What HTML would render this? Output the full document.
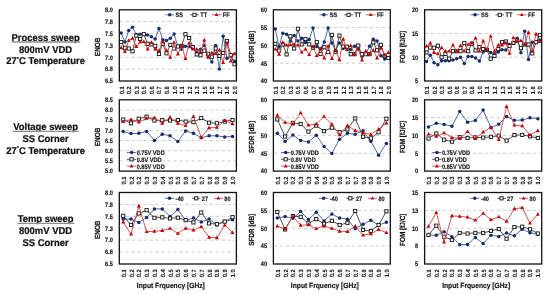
<!DOCTYPE html>
<html><head><meta charset="utf-8"><style>
html,body{margin:0;padding:0;background:#fff;width:550px;height:294px;overflow:hidden}
svg{display:block;font-family:"Liberation Sans", sans-serif;text-rendering:geometricPrecision;will-change:transform}
</style></head><body>
<svg width="550" height="294" viewBox="0 0 550 294">
<line x1="120.3" y1="69.13" x2="235.4" y2="69.13" stroke="#c8c8c8" stroke-width="0.9" stroke-dasharray="3.3 2.7" stroke-dashoffset="0.7"/>
<line x1="120.3" y1="57.27" x2="235.4" y2="57.27" stroke="#c8c8c8" stroke-width="0.9" stroke-dasharray="3.3 2.7" stroke-dashoffset="0.7"/>
<line x1="120.3" y1="45.4" x2="235.4" y2="45.4" stroke="#c8c8c8" stroke-width="0.9" stroke-dasharray="3.3 2.7" stroke-dashoffset="0.7"/>
<line x1="120.3" y1="33.53" x2="235.4" y2="33.53" stroke="#c8c8c8" stroke-width="0.9" stroke-dasharray="3.3 2.7" stroke-dashoffset="0.7"/>
<line x1="120.3" y1="21.67" x2="235.4" y2="21.67" stroke="#c8c8c8" stroke-width="0.9" stroke-dasharray="3.3 2.7" stroke-dashoffset="0.7"/>
<text transform="translate(112.9,12.1) scale(1.0,1.15)" text-anchor="end" font-size="5.6" font-weight="bold" fill="#1a1a1a" stroke="#1a1a1a" stroke-width="0.16">8.0</text>
<text transform="translate(112.9,23.97) scale(1.0,1.15)" text-anchor="end" font-size="5.6" font-weight="bold" fill="#1a1a1a" stroke="#1a1a1a" stroke-width="0.16">7.8</text>
<text transform="translate(112.9,35.83) scale(1.0,1.15)" text-anchor="end" font-size="5.6" font-weight="bold" fill="#1a1a1a" stroke="#1a1a1a" stroke-width="0.16">7.5</text>
<text transform="translate(112.9,47.7) scale(1.0,1.15)" text-anchor="end" font-size="5.6" font-weight="bold" fill="#1a1a1a" stroke="#1a1a1a" stroke-width="0.16">7.3</text>
<text transform="translate(112.9,59.57) scale(1.0,1.15)" text-anchor="end" font-size="5.6" font-weight="bold" fill="#1a1a1a" stroke="#1a1a1a" stroke-width="0.16">7.0</text>
<text transform="translate(112.9,71.43) scale(1.0,1.15)" text-anchor="end" font-size="5.6" font-weight="bold" fill="#1a1a1a" stroke="#1a1a1a" stroke-width="0.16">6.8</text>
<text transform="translate(112.9,83.3) scale(1.0,1.15)" text-anchor="end" font-size="5.6" font-weight="bold" fill="#1a1a1a" stroke="#1a1a1a" stroke-width="0.16">6.5</text>
<text transform="translate(100,46.9) rotate(-90) scale(1.0,1.15)" text-anchor="middle" font-size="6.4" font-weight="bold" fill="#111" stroke="#111" stroke-width="0.15">ENOB</text>
<text transform="translate(123.69,86.3) rotate(-90) scale(1.0,1.05)" text-anchor="end" font-size="5.8" font-weight="bold" fill="#1a1a1a" stroke="#1a1a1a" stroke-width="0.1">0.1</text>
<text transform="translate(131.24,86.3) rotate(-90) scale(1.0,1.05)" text-anchor="end" font-size="5.8" font-weight="bold" fill="#1a1a1a" stroke="#1a1a1a" stroke-width="0.1">0.2</text>
<text transform="translate(138.8,86.3) rotate(-90) scale(1.0,1.05)" text-anchor="end" font-size="5.8" font-weight="bold" fill="#1a1a1a" stroke="#1a1a1a" stroke-width="0.1">0.3</text>
<text transform="translate(146.35,86.3) rotate(-90) scale(1.0,1.05)" text-anchor="end" font-size="5.8" font-weight="bold" fill="#1a1a1a" stroke="#1a1a1a" stroke-width="0.1">0.5</text>
<text transform="translate(153.91,86.3) rotate(-90) scale(1.0,1.05)" text-anchor="end" font-size="5.8" font-weight="bold" fill="#1a1a1a" stroke="#1a1a1a" stroke-width="0.1">0.6</text>
<text transform="translate(161.46,86.3) rotate(-90) scale(1.0,1.05)" text-anchor="end" font-size="5.8" font-weight="bold" fill="#1a1a1a" stroke="#1a1a1a" stroke-width="0.1">0.7</text>
<text transform="translate(169.02,86.3) rotate(-90) scale(1.0,1.05)" text-anchor="end" font-size="5.8" font-weight="bold" fill="#1a1a1a" stroke="#1a1a1a" stroke-width="0.1">0.8</text>
<text transform="translate(176.57,86.3) rotate(-90) scale(1.0,1.05)" text-anchor="end" font-size="5.8" font-weight="bold" fill="#1a1a1a" stroke="#1a1a1a" stroke-width="0.1">1.0</text>
<text transform="translate(184.13,86.3) rotate(-90) scale(1.0,1.05)" text-anchor="end" font-size="5.8" font-weight="bold" fill="#1a1a1a" stroke="#1a1a1a" stroke-width="0.1">1.1</text>
<text transform="translate(191.68,86.3) rotate(-90) scale(1.0,1.05)" text-anchor="end" font-size="5.8" font-weight="bold" fill="#1a1a1a" stroke="#1a1a1a" stroke-width="0.1">1.2</text>
<text transform="translate(199.24,86.3) rotate(-90) scale(1.0,1.05)" text-anchor="end" font-size="5.8" font-weight="bold" fill="#1a1a1a" stroke="#1a1a1a" stroke-width="0.1">1.3</text>
<text transform="translate(206.79,86.3) rotate(-90) scale(1.0,1.05)" text-anchor="end" font-size="5.8" font-weight="bold" fill="#1a1a1a" stroke="#1a1a1a" stroke-width="0.1">1.5</text>
<text transform="translate(214.35,86.3) rotate(-90) scale(1.0,1.05)" text-anchor="end" font-size="5.8" font-weight="bold" fill="#1a1a1a" stroke="#1a1a1a" stroke-width="0.1">1.6</text>
<text transform="translate(221.9,86.3) rotate(-90) scale(1.0,1.05)" text-anchor="end" font-size="5.8" font-weight="bold" fill="#1a1a1a" stroke="#1a1a1a" stroke-width="0.1">1.7</text>
<text transform="translate(229.46,86.3) rotate(-90) scale(1.0,1.05)" text-anchor="end" font-size="5.8" font-weight="bold" fill="#1a1a1a" stroke="#1a1a1a" stroke-width="0.1">1.8</text>
<text transform="translate(237.01,86.3) rotate(-90) scale(1.0,1.05)" text-anchor="end" font-size="5.8" font-weight="bold" fill="#1a1a1a" stroke="#1a1a1a" stroke-width="0.1">2.0</text>
<polyline fill="none" stroke="#4563a3" stroke-width="0.95" points="121.19,33 124.97,42 128.74,30.4 132.52,27.2 136.3,34.5 140.08,34.2 143.85,34 147.63,34.9 151.41,36.7 155.19,39 158.96,28.5 162.74,39.7 166.52,40.4 170.3,38.3 174.07,34 177.85,46.5 181.63,49.2 185.4,46.2 189.18,46.8 192.96,47.9 196.74,52.2 200.51,49.2 204.29,45.5 208.07,56 211.85,62 215.62,45.5 219.4,69.1 223.18,36.2 226.96,58.2 230.73,56 234.51,61.2"/>
<circle cx="121.19" cy="33" r="1.75" fill="#172a6a"/>
<circle cx="124.97" cy="42" r="1.75" fill="#172a6a"/>
<circle cx="128.74" cy="30.4" r="1.75" fill="#172a6a"/>
<circle cx="132.52" cy="27.2" r="1.75" fill="#172a6a"/>
<circle cx="136.3" cy="34.5" r="1.75" fill="#172a6a"/>
<circle cx="140.08" cy="34.2" r="1.75" fill="#172a6a"/>
<circle cx="143.85" cy="34" r="1.75" fill="#172a6a"/>
<circle cx="147.63" cy="34.9" r="1.75" fill="#172a6a"/>
<circle cx="151.41" cy="36.7" r="1.75" fill="#172a6a"/>
<circle cx="155.19" cy="39" r="1.75" fill="#172a6a"/>
<circle cx="158.96" cy="28.5" r="1.75" fill="#172a6a"/>
<circle cx="162.74" cy="39.7" r="1.75" fill="#172a6a"/>
<circle cx="166.52" cy="40.4" r="1.75" fill="#172a6a"/>
<circle cx="170.3" cy="38.3" r="1.75" fill="#172a6a"/>
<circle cx="174.07" cy="34" r="1.75" fill="#172a6a"/>
<circle cx="177.85" cy="46.5" r="1.75" fill="#172a6a"/>
<circle cx="181.63" cy="49.2" r="1.75" fill="#172a6a"/>
<circle cx="185.4" cy="46.2" r="1.75" fill="#172a6a"/>
<circle cx="189.18" cy="46.8" r="1.75" fill="#172a6a"/>
<circle cx="192.96" cy="47.9" r="1.75" fill="#172a6a"/>
<circle cx="196.74" cy="52.2" r="1.75" fill="#172a6a"/>
<circle cx="200.51" cy="49.2" r="1.75" fill="#172a6a"/>
<circle cx="204.29" cy="45.5" r="1.75" fill="#172a6a"/>
<circle cx="208.07" cy="56" r="1.75" fill="#172a6a"/>
<circle cx="211.85" cy="62" r="1.75" fill="#172a6a"/>
<circle cx="215.62" cy="45.5" r="1.75" fill="#172a6a"/>
<circle cx="219.4" cy="69.1" r="1.75" fill="#172a6a"/>
<circle cx="223.18" cy="36.2" r="1.75" fill="#172a6a"/>
<circle cx="226.96" cy="58.2" r="1.75" fill="#172a6a"/>
<circle cx="230.73" cy="56" r="1.75" fill="#172a6a"/>
<circle cx="234.51" cy="61.2" r="1.75" fill="#172a6a"/>
<polyline fill="none" stroke="#444" stroke-width="0.95" points="121.19,42.1 124.97,47.8 128.74,48.5 132.52,51.3 136.3,35.6 140.08,39 143.85,34.2 147.63,43.8 151.41,44.4 155.19,45.8 158.96,54 162.74,43.8 166.52,53.3 170.3,44.9 174.07,48.5 177.85,46.5 181.63,46 185.4,34.2 189.18,38 192.96,47.2 196.74,54.4 200.51,55.2 204.29,50.7 208.07,53.7 211.85,56.7 215.62,48.5 219.4,56 223.18,53 226.96,41 230.73,55.2 234.51,64.2"/>
<rect x="119.59" y="40.5" width="3.2" height="3.2" fill="#fff" stroke="#111" stroke-width="0.9"/>
<rect x="123.37" y="46.2" width="3.2" height="3.2" fill="#fff" stroke="#111" stroke-width="0.9"/>
<rect x="127.14" y="46.9" width="3.2" height="3.2" fill="#fff" stroke="#111" stroke-width="0.9"/>
<rect x="130.92" y="49.7" width="3.2" height="3.2" fill="#fff" stroke="#111" stroke-width="0.9"/>
<rect x="134.7" y="34" width="3.2" height="3.2" fill="#fff" stroke="#111" stroke-width="0.9"/>
<rect x="138.48" y="37.4" width="3.2" height="3.2" fill="#fff" stroke="#111" stroke-width="0.9"/>
<rect x="142.25" y="32.6" width="3.2" height="3.2" fill="#fff" stroke="#111" stroke-width="0.9"/>
<rect x="146.03" y="42.2" width="3.2" height="3.2" fill="#fff" stroke="#111" stroke-width="0.9"/>
<rect x="149.81" y="42.8" width="3.2" height="3.2" fill="#fff" stroke="#111" stroke-width="0.9"/>
<rect x="153.59" y="44.2" width="3.2" height="3.2" fill="#fff" stroke="#111" stroke-width="0.9"/>
<rect x="157.36" y="52.4" width="3.2" height="3.2" fill="#fff" stroke="#111" stroke-width="0.9"/>
<rect x="161.14" y="42.2" width="3.2" height="3.2" fill="#fff" stroke="#111" stroke-width="0.9"/>
<rect x="164.92" y="51.7" width="3.2" height="3.2" fill="#fff" stroke="#111" stroke-width="0.9"/>
<rect x="168.7" y="43.3" width="3.2" height="3.2" fill="#fff" stroke="#111" stroke-width="0.9"/>
<rect x="172.47" y="46.9" width="3.2" height="3.2" fill="#fff" stroke="#111" stroke-width="0.9"/>
<rect x="176.25" y="44.9" width="3.2" height="3.2" fill="#fff" stroke="#111" stroke-width="0.9"/>
<rect x="180.03" y="44.4" width="3.2" height="3.2" fill="#fff" stroke="#111" stroke-width="0.9"/>
<rect x="183.8" y="32.6" width="3.2" height="3.2" fill="#fff" stroke="#111" stroke-width="0.9"/>
<rect x="187.58" y="36.4" width="3.2" height="3.2" fill="#fff" stroke="#111" stroke-width="0.9"/>
<rect x="191.36" y="45.6" width="3.2" height="3.2" fill="#fff" stroke="#111" stroke-width="0.9"/>
<rect x="195.14" y="52.8" width="3.2" height="3.2" fill="#fff" stroke="#111" stroke-width="0.9"/>
<rect x="198.91" y="53.6" width="3.2" height="3.2" fill="#fff" stroke="#111" stroke-width="0.9"/>
<rect x="202.69" y="49.1" width="3.2" height="3.2" fill="#fff" stroke="#111" stroke-width="0.9"/>
<rect x="206.47" y="52.1" width="3.2" height="3.2" fill="#fff" stroke="#111" stroke-width="0.9"/>
<rect x="210.25" y="55.1" width="3.2" height="3.2" fill="#fff" stroke="#111" stroke-width="0.9"/>
<rect x="214.02" y="46.9" width="3.2" height="3.2" fill="#fff" stroke="#111" stroke-width="0.9"/>
<rect x="217.8" y="54.4" width="3.2" height="3.2" fill="#fff" stroke="#111" stroke-width="0.9"/>
<rect x="221.58" y="51.4" width="3.2" height="3.2" fill="#fff" stroke="#111" stroke-width="0.9"/>
<rect x="225.36" y="39.4" width="3.2" height="3.2" fill="#fff" stroke="#111" stroke-width="0.9"/>
<rect x="229.13" y="53.6" width="3.2" height="3.2" fill="#fff" stroke="#111" stroke-width="0.9"/>
<rect x="232.91" y="62.6" width="3.2" height="3.2" fill="#fff" stroke="#111" stroke-width="0.9"/>
<polyline fill="none" stroke="#d24b4b" stroke-width="0.95" points="121.19,47.8 124.97,51.7 128.74,40.4 132.52,38.3 136.3,46.5 140.08,42.1 143.85,41.7 147.63,49.2 151.41,42.4 155.19,49.2 158.96,50.6 162.74,41.7 166.52,50.6 170.3,57.4 174.07,42.4 177.85,54 181.63,45.8 185.4,58.5 189.18,43.1 192.96,49.2 196.74,49.2 200.51,52.2 204.29,40.2 208.07,57.4 211.85,53 215.62,53.7 219.4,50 223.18,62.7 226.96,43.2 230.73,61.2 234.51,53.7"/>
<path d="M121.19,45.6L123.19,49.2L119.19,49.2Z" fill="#c00000"/>
<path d="M124.97,49.5L126.97,53.1L122.97,53.1Z" fill="#c00000"/>
<path d="M128.74,38.2L130.74,41.8L126.74,41.8Z" fill="#c00000"/>
<path d="M132.52,36.1L134.52,39.7L130.52,39.7Z" fill="#c00000"/>
<path d="M136.3,44.3L138.3,47.9L134.3,47.9Z" fill="#c00000"/>
<path d="M140.08,39.9L142.08,43.5L138.08,43.5Z" fill="#c00000"/>
<path d="M143.85,39.5L145.85,43.1L141.85,43.1Z" fill="#c00000"/>
<path d="M147.63,47L149.63,50.6L145.63,50.6Z" fill="#c00000"/>
<path d="M151.41,40.2L153.41,43.8L149.41,43.8Z" fill="#c00000"/>
<path d="M155.19,47L157.19,50.6L153.19,50.6Z" fill="#c00000"/>
<path d="M158.96,48.4L160.96,52L156.96,52Z" fill="#c00000"/>
<path d="M162.74,39.5L164.74,43.1L160.74,43.1Z" fill="#c00000"/>
<path d="M166.52,48.4L168.52,52L164.52,52Z" fill="#c00000"/>
<path d="M170.3,55.2L172.3,58.8L168.3,58.8Z" fill="#c00000"/>
<path d="M174.07,40.2L176.07,43.8L172.07,43.8Z" fill="#c00000"/>
<path d="M177.85,51.8L179.85,55.4L175.85,55.4Z" fill="#c00000"/>
<path d="M181.63,43.6L183.63,47.2L179.63,47.2Z" fill="#c00000"/>
<path d="M185.4,56.3L187.4,59.9L183.4,59.9Z" fill="#c00000"/>
<path d="M189.18,40.9L191.18,44.5L187.18,44.5Z" fill="#c00000"/>
<path d="M192.96,47L194.96,50.6L190.96,50.6Z" fill="#c00000"/>
<path d="M196.74,47L198.74,50.6L194.74,50.6Z" fill="#c00000"/>
<path d="M200.51,50L202.51,53.6L198.51,53.6Z" fill="#c00000"/>
<path d="M204.29,38L206.29,41.6L202.29,41.6Z" fill="#c00000"/>
<path d="M208.07,55.2L210.07,58.8L206.07,58.8Z" fill="#c00000"/>
<path d="M211.85,50.8L213.85,54.4L209.85,54.4Z" fill="#c00000"/>
<path d="M215.62,51.5L217.62,55.1L213.62,55.1Z" fill="#c00000"/>
<path d="M219.4,47.8L221.4,51.4L217.4,51.4Z" fill="#c00000"/>
<path d="M223.18,60.5L225.18,64.1L221.18,64.1Z" fill="#c00000"/>
<path d="M226.96,41L228.96,44.6L224.96,44.6Z" fill="#c00000"/>
<path d="M230.73,59L232.73,62.6L228.73,62.6Z" fill="#c00000"/>
<path d="M234.51,51.5L236.51,55.1L232.51,55.1Z" fill="#c00000"/>
<rect x="119.3" y="9.8" width="117.1" height="71.2" fill="none" stroke="#111" stroke-width="1.3"/>
<line x1="165.4" y1="14.8" x2="174.1" y2="14.8" stroke="#4563a3" stroke-width="0.9"/>
<circle cx="169.75" cy="14.8" r="1.75" fill="#172a6a"/>
<text transform="translate(175.6,17.2) scale(1.0,1.15)" font-size="5.6" font-weight="bold" fill="#1a1a1a" stroke="#1a1a1a" stroke-width="0.14">SS</text>
<line x1="190.1" y1="14.8" x2="198.8" y2="14.8" stroke="#444" stroke-width="0.9"/>
<rect x="192.85" y="13.2" width="3.2" height="3.2" fill="#fff" stroke="#111" stroke-width="0.9"/>
<text transform="translate(200.3,17.2) scale(1.0,1.15)" font-size="5.6" font-weight="bold" fill="#1a1a1a" stroke="#1a1a1a" stroke-width="0.14">TT</text>
<line x1="211.9" y1="14.8" x2="221.3" y2="14.8" stroke="#d24b4b" stroke-width="0.9"/>
<path d="M216.6,12.8L218.4,16.1L214.8,16.1Z" fill="#c00000"/>
<text transform="translate(222.8,17.2) scale(1.0,1.15)" font-size="5.6" font-weight="bold" fill="#1a1a1a" stroke="#1a1a1a" stroke-width="0.14">FF</text>
<line x1="274.4" y1="63.2" x2="389.3" y2="63.2" stroke="#c8c8c8" stroke-width="0.9" stroke-dasharray="3.3 2.7" stroke-dashoffset="0.7"/>
<line x1="274.4" y1="45.4" x2="389.3" y2="45.4" stroke="#c8c8c8" stroke-width="0.9" stroke-dasharray="3.3 2.7" stroke-dashoffset="0.7"/>
<line x1="274.4" y1="27.6" x2="389.3" y2="27.6" stroke="#c8c8c8" stroke-width="0.9" stroke-dasharray="3.3 2.7" stroke-dashoffset="0.7"/>
<text transform="translate(267,12.1) scale(1.0,1.15)" text-anchor="end" font-size="5.6" font-weight="bold" fill="#1a1a1a" stroke="#1a1a1a" stroke-width="0.16">60</text>
<text transform="translate(267,29.9) scale(1.0,1.15)" text-anchor="end" font-size="5.6" font-weight="bold" fill="#1a1a1a" stroke="#1a1a1a" stroke-width="0.16">55</text>
<text transform="translate(267,47.7) scale(1.0,1.15)" text-anchor="end" font-size="5.6" font-weight="bold" fill="#1a1a1a" stroke="#1a1a1a" stroke-width="0.16">50</text>
<text transform="translate(267,65.5) scale(1.0,1.15)" text-anchor="end" font-size="5.6" font-weight="bold" fill="#1a1a1a" stroke="#1a1a1a" stroke-width="0.16">45</text>
<text transform="translate(267,83.3) scale(1.0,1.15)" text-anchor="end" font-size="5.6" font-weight="bold" fill="#1a1a1a" stroke="#1a1a1a" stroke-width="0.16">40</text>
<text transform="translate(254.1,46.9) rotate(-90) scale(1.0,1.15)" text-anchor="middle" font-size="6.4" font-weight="bold" fill="#111" stroke="#111" stroke-width="0.15">SFDR [dB]</text>
<text transform="translate(277.79,86.3) rotate(-90) scale(1.0,1.05)" text-anchor="end" font-size="5.8" font-weight="bold" fill="#1a1a1a" stroke="#1a1a1a" stroke-width="0.1">0.1</text>
<text transform="translate(285.33,86.3) rotate(-90) scale(1.0,1.05)" text-anchor="end" font-size="5.8" font-weight="bold" fill="#1a1a1a" stroke="#1a1a1a" stroke-width="0.1">0.2</text>
<text transform="translate(292.87,86.3) rotate(-90) scale(1.0,1.05)" text-anchor="end" font-size="5.8" font-weight="bold" fill="#1a1a1a" stroke="#1a1a1a" stroke-width="0.1">0.3</text>
<text transform="translate(300.41,86.3) rotate(-90) scale(1.0,1.05)" text-anchor="end" font-size="5.8" font-weight="bold" fill="#1a1a1a" stroke="#1a1a1a" stroke-width="0.1">0.5</text>
<text transform="translate(307.95,86.3) rotate(-90) scale(1.0,1.05)" text-anchor="end" font-size="5.8" font-weight="bold" fill="#1a1a1a" stroke="#1a1a1a" stroke-width="0.1">0.6</text>
<text transform="translate(315.5,86.3) rotate(-90) scale(1.0,1.05)" text-anchor="end" font-size="5.8" font-weight="bold" fill="#1a1a1a" stroke="#1a1a1a" stroke-width="0.1">0.7</text>
<text transform="translate(323.04,86.3) rotate(-90) scale(1.0,1.05)" text-anchor="end" font-size="5.8" font-weight="bold" fill="#1a1a1a" stroke="#1a1a1a" stroke-width="0.1">0.8</text>
<text transform="translate(330.58,86.3) rotate(-90) scale(1.0,1.05)" text-anchor="end" font-size="5.8" font-weight="bold" fill="#1a1a1a" stroke="#1a1a1a" stroke-width="0.1">1.0</text>
<text transform="translate(338.12,86.3) rotate(-90) scale(1.0,1.05)" text-anchor="end" font-size="5.8" font-weight="bold" fill="#1a1a1a" stroke="#1a1a1a" stroke-width="0.1">1.1</text>
<text transform="translate(345.66,86.3) rotate(-90) scale(1.0,1.05)" text-anchor="end" font-size="5.8" font-weight="bold" fill="#1a1a1a" stroke="#1a1a1a" stroke-width="0.1">1.2</text>
<text transform="translate(353.2,86.3) rotate(-90) scale(1.0,1.05)" text-anchor="end" font-size="5.8" font-weight="bold" fill="#1a1a1a" stroke="#1a1a1a" stroke-width="0.1">1.3</text>
<text transform="translate(360.75,86.3) rotate(-90) scale(1.0,1.05)" text-anchor="end" font-size="5.8" font-weight="bold" fill="#1a1a1a" stroke="#1a1a1a" stroke-width="0.1">1.5</text>
<text transform="translate(368.29,86.3) rotate(-90) scale(1.0,1.05)" text-anchor="end" font-size="5.8" font-weight="bold" fill="#1a1a1a" stroke="#1a1a1a" stroke-width="0.1">1.6</text>
<text transform="translate(375.83,86.3) rotate(-90) scale(1.0,1.05)" text-anchor="end" font-size="5.8" font-weight="bold" fill="#1a1a1a" stroke="#1a1a1a" stroke-width="0.1">1.7</text>
<text transform="translate(383.37,86.3) rotate(-90) scale(1.0,1.05)" text-anchor="end" font-size="5.8" font-weight="bold" fill="#1a1a1a" stroke="#1a1a1a" stroke-width="0.1">1.8</text>
<text transform="translate(390.91,86.3) rotate(-90) scale(1.0,1.05)" text-anchor="end" font-size="5.8" font-weight="bold" fill="#1a1a1a" stroke="#1a1a1a" stroke-width="0.1">2.0</text>
<polyline fill="none" stroke="#4563a3" stroke-width="0.95" points="275.29,29.1 279.06,46.5 282.83,33.2 286.6,34.2 290.37,41 294.14,35.6 297.91,41 301.68,38.3 305.45,42.4 309.22,39.5 313,28.1 316.77,46.5 320.54,48.5 324.31,42.1 328.08,28.1 331.85,43.1 335.62,50.6 339.39,43.1 343.16,48.5 346.93,47.3 350.7,49.5 354.48,46.3 358.25,49.5 362.02,56.5 365.79,54.2 369.56,46.3 373.33,39.3 377.1,40.9 380.87,55.7 384.64,58.9 388.41,57.5"/>
<circle cx="275.29" cy="29.1" r="1.75" fill="#172a6a"/>
<circle cx="279.06" cy="46.5" r="1.75" fill="#172a6a"/>
<circle cx="282.83" cy="33.2" r="1.75" fill="#172a6a"/>
<circle cx="286.6" cy="34.2" r="1.75" fill="#172a6a"/>
<circle cx="290.37" cy="41" r="1.75" fill="#172a6a"/>
<circle cx="294.14" cy="35.6" r="1.75" fill="#172a6a"/>
<circle cx="297.91" cy="41" r="1.75" fill="#172a6a"/>
<circle cx="301.68" cy="38.3" r="1.75" fill="#172a6a"/>
<circle cx="305.45" cy="42.4" r="1.75" fill="#172a6a"/>
<circle cx="309.22" cy="39.5" r="1.75" fill="#172a6a"/>
<circle cx="313" cy="28.1" r="1.75" fill="#172a6a"/>
<circle cx="316.77" cy="46.5" r="1.75" fill="#172a6a"/>
<circle cx="320.54" cy="48.5" r="1.75" fill="#172a6a"/>
<circle cx="324.31" cy="42.1" r="1.75" fill="#172a6a"/>
<circle cx="328.08" cy="28.1" r="1.75" fill="#172a6a"/>
<circle cx="331.85" cy="43.1" r="1.75" fill="#172a6a"/>
<circle cx="335.62" cy="50.6" r="1.75" fill="#172a6a"/>
<circle cx="339.39" cy="43.1" r="1.75" fill="#172a6a"/>
<circle cx="343.16" cy="48.5" r="1.75" fill="#172a6a"/>
<circle cx="346.93" cy="47.3" r="1.75" fill="#172a6a"/>
<circle cx="350.7" cy="49.5" r="1.75" fill="#172a6a"/>
<circle cx="354.48" cy="46.3" r="1.75" fill="#172a6a"/>
<circle cx="358.25" cy="49.5" r="1.75" fill="#172a6a"/>
<circle cx="362.02" cy="56.5" r="1.75" fill="#172a6a"/>
<circle cx="365.79" cy="54.2" r="1.75" fill="#172a6a"/>
<circle cx="369.56" cy="46.3" r="1.75" fill="#172a6a"/>
<circle cx="373.33" cy="39.3" r="1.75" fill="#172a6a"/>
<circle cx="377.1" cy="40.9" r="1.75" fill="#172a6a"/>
<circle cx="380.87" cy="55.7" r="1.75" fill="#172a6a"/>
<circle cx="384.64" cy="58.9" r="1.75" fill="#172a6a"/>
<circle cx="388.41" cy="57.5" r="1.75" fill="#172a6a"/>
<polyline fill="none" stroke="#444" stroke-width="0.95" points="275.29,43.8 279.06,50.6 282.83,44.4 286.6,54.4 290.37,36.3 294.14,48.5 297.91,28.8 301.68,44.4 305.45,39 309.22,44.4 313,47.8 316.77,42.1 320.54,54 324.31,47.2 328.08,52 331.85,34.9 335.62,52 339.39,35.6 343.16,46.5 346.93,46.7 350.7,54.2 354.48,54.2 358.25,45.6 362.02,54.2 365.79,54.2 369.56,54.2 373.33,42.4 377.1,50.3 380.87,44.8 384.64,55.7 388.41,58"/>
<rect x="273.69" y="42.2" width="3.2" height="3.2" fill="#fff" stroke="#111" stroke-width="0.9"/>
<rect x="277.46" y="49" width="3.2" height="3.2" fill="#fff" stroke="#111" stroke-width="0.9"/>
<rect x="281.23" y="42.8" width="3.2" height="3.2" fill="#fff" stroke="#111" stroke-width="0.9"/>
<rect x="285" y="52.8" width="3.2" height="3.2" fill="#fff" stroke="#111" stroke-width="0.9"/>
<rect x="288.77" y="34.7" width="3.2" height="3.2" fill="#fff" stroke="#111" stroke-width="0.9"/>
<rect x="292.54" y="46.9" width="3.2" height="3.2" fill="#fff" stroke="#111" stroke-width="0.9"/>
<rect x="296.31" y="27.2" width="3.2" height="3.2" fill="#fff" stroke="#111" stroke-width="0.9"/>
<rect x="300.08" y="42.8" width="3.2" height="3.2" fill="#fff" stroke="#111" stroke-width="0.9"/>
<rect x="303.85" y="37.4" width="3.2" height="3.2" fill="#fff" stroke="#111" stroke-width="0.9"/>
<rect x="307.62" y="42.8" width="3.2" height="3.2" fill="#fff" stroke="#111" stroke-width="0.9"/>
<rect x="311.4" y="46.2" width="3.2" height="3.2" fill="#fff" stroke="#111" stroke-width="0.9"/>
<rect x="315.17" y="40.5" width="3.2" height="3.2" fill="#fff" stroke="#111" stroke-width="0.9"/>
<rect x="318.94" y="52.4" width="3.2" height="3.2" fill="#fff" stroke="#111" stroke-width="0.9"/>
<rect x="322.71" y="45.6" width="3.2" height="3.2" fill="#fff" stroke="#111" stroke-width="0.9"/>
<rect x="326.48" y="50.4" width="3.2" height="3.2" fill="#fff" stroke="#111" stroke-width="0.9"/>
<rect x="330.25" y="33.3" width="3.2" height="3.2" fill="#fff" stroke="#111" stroke-width="0.9"/>
<rect x="334.02" y="50.4" width="3.2" height="3.2" fill="#fff" stroke="#111" stroke-width="0.9"/>
<rect x="337.79" y="34" width="3.2" height="3.2" fill="#fff" stroke="#111" stroke-width="0.9"/>
<rect x="341.56" y="44.9" width="3.2" height="3.2" fill="#fff" stroke="#111" stroke-width="0.9"/>
<rect x="345.33" y="45.1" width="3.2" height="3.2" fill="#fff" stroke="#111" stroke-width="0.9"/>
<rect x="349.1" y="52.6" width="3.2" height="3.2" fill="#fff" stroke="#111" stroke-width="0.9"/>
<rect x="352.88" y="52.6" width="3.2" height="3.2" fill="#fff" stroke="#111" stroke-width="0.9"/>
<rect x="356.65" y="44" width="3.2" height="3.2" fill="#fff" stroke="#111" stroke-width="0.9"/>
<rect x="360.42" y="52.6" width="3.2" height="3.2" fill="#fff" stroke="#111" stroke-width="0.9"/>
<rect x="364.19" y="52.6" width="3.2" height="3.2" fill="#fff" stroke="#111" stroke-width="0.9"/>
<rect x="367.96" y="52.6" width="3.2" height="3.2" fill="#fff" stroke="#111" stroke-width="0.9"/>
<rect x="371.73" y="40.8" width="3.2" height="3.2" fill="#fff" stroke="#111" stroke-width="0.9"/>
<rect x="375.5" y="48.7" width="3.2" height="3.2" fill="#fff" stroke="#111" stroke-width="0.9"/>
<rect x="379.27" y="43.2" width="3.2" height="3.2" fill="#fff" stroke="#111" stroke-width="0.9"/>
<rect x="383.04" y="54.1" width="3.2" height="3.2" fill="#fff" stroke="#111" stroke-width="0.9"/>
<rect x="386.81" y="56.4" width="3.2" height="3.2" fill="#fff" stroke="#111" stroke-width="0.9"/>
<polyline fill="none" stroke="#d24b4b" stroke-width="0.95" points="275.29,49.2 279.06,54.4 282.83,42.4 286.6,45.1 290.37,44.9 294.14,44.4 297.91,45.1 301.68,52.2 305.45,49.2 309.22,54.7 313,46.5 316.77,55.7 320.54,49.2 324.31,58 328.08,46.2 331.85,58.5 335.62,50.6 339.39,59.8 343.16,39 346.93,49.7 350.7,45.6 354.48,54.2 358.25,48.7 362.02,60.1 365.79,51 369.56,54.2 373.33,50.3 377.1,58.1 380.87,47.9 384.64,55 388.41,52.5"/>
<path d="M275.29,47L277.29,50.6L273.29,50.6Z" fill="#c00000"/>
<path d="M279.06,52.2L281.06,55.8L277.06,55.8Z" fill="#c00000"/>
<path d="M282.83,40.2L284.83,43.8L280.83,43.8Z" fill="#c00000"/>
<path d="M286.6,42.9L288.6,46.5L284.6,46.5Z" fill="#c00000"/>
<path d="M290.37,42.7L292.37,46.3L288.37,46.3Z" fill="#c00000"/>
<path d="M294.14,42.2L296.14,45.8L292.14,45.8Z" fill="#c00000"/>
<path d="M297.91,42.9L299.91,46.5L295.91,46.5Z" fill="#c00000"/>
<path d="M301.68,50L303.68,53.6L299.68,53.6Z" fill="#c00000"/>
<path d="M305.45,47L307.45,50.6L303.45,50.6Z" fill="#c00000"/>
<path d="M309.22,52.5L311.22,56.1L307.22,56.1Z" fill="#c00000"/>
<path d="M313,44.3L315,47.9L311,47.9Z" fill="#c00000"/>
<path d="M316.77,53.5L318.77,57.1L314.77,57.1Z" fill="#c00000"/>
<path d="M320.54,47L322.54,50.6L318.54,50.6Z" fill="#c00000"/>
<path d="M324.31,55.8L326.31,59.4L322.31,59.4Z" fill="#c00000"/>
<path d="M328.08,44L330.08,47.6L326.08,47.6Z" fill="#c00000"/>
<path d="M331.85,56.3L333.85,59.9L329.85,59.9Z" fill="#c00000"/>
<path d="M335.62,48.4L337.62,52L333.62,52Z" fill="#c00000"/>
<path d="M339.39,57.6L341.39,61.2L337.39,61.2Z" fill="#c00000"/>
<path d="M343.16,36.8L345.16,40.4L341.16,40.4Z" fill="#c00000"/>
<path d="M346.93,47.5L348.93,51.1L344.93,51.1Z" fill="#c00000"/>
<path d="M350.7,43.4L352.7,47L348.7,47Z" fill="#c00000"/>
<path d="M354.48,52L356.48,55.6L352.48,55.6Z" fill="#c00000"/>
<path d="M358.25,46.5L360.25,50.1L356.25,50.1Z" fill="#c00000"/>
<path d="M362.02,57.9L364.02,61.5L360.02,61.5Z" fill="#c00000"/>
<path d="M365.79,48.8L367.79,52.4L363.79,52.4Z" fill="#c00000"/>
<path d="M369.56,52L371.56,55.6L367.56,55.6Z" fill="#c00000"/>
<path d="M373.33,48.1L375.33,51.7L371.33,51.7Z" fill="#c00000"/>
<path d="M377.1,55.9L379.1,59.5L375.1,59.5Z" fill="#c00000"/>
<path d="M380.87,45.7L382.87,49.3L378.87,49.3Z" fill="#c00000"/>
<path d="M384.64,52.8L386.64,56.4L382.64,56.4Z" fill="#c00000"/>
<path d="M388.41,50.3L390.41,53.9L386.41,53.9Z" fill="#c00000"/>
<rect x="273.4" y="9.8" width="116.9" height="71.2" fill="none" stroke="#111" stroke-width="1.3"/>
<line x1="319.5" y1="14.8" x2="328.2" y2="14.8" stroke="#4563a3" stroke-width="0.9"/>
<circle cx="323.85" cy="14.8" r="1.75" fill="#172a6a"/>
<text transform="translate(329.7,17.2) scale(1.0,1.15)" font-size="5.6" font-weight="bold" fill="#1a1a1a" stroke="#1a1a1a" stroke-width="0.14">SS</text>
<line x1="344.2" y1="14.8" x2="352.9" y2="14.8" stroke="#444" stroke-width="0.9"/>
<rect x="346.95" y="13.2" width="3.2" height="3.2" fill="#fff" stroke="#111" stroke-width="0.9"/>
<text transform="translate(354.4,17.2) scale(1.0,1.15)" font-size="5.6" font-weight="bold" fill="#1a1a1a" stroke="#1a1a1a" stroke-width="0.14">TT</text>
<line x1="366" y1="14.8" x2="375.4" y2="14.8" stroke="#d24b4b" stroke-width="0.9"/>
<path d="M370.7,12.8L372.5,16.1L368.9,16.1Z" fill="#c00000"/>
<text transform="translate(376.9,17.2) scale(1.0,1.15)" font-size="5.6" font-weight="bold" fill="#1a1a1a" stroke="#1a1a1a" stroke-width="0.14">FF</text>
<line x1="425.6" y1="57.27" x2="540.7" y2="57.27" stroke="#c8c8c8" stroke-width="0.9" stroke-dasharray="3.3 2.7" stroke-dashoffset="0.7"/>
<line x1="425.6" y1="33.53" x2="540.7" y2="33.53" stroke="#c8c8c8" stroke-width="0.9" stroke-dasharray="3.3 2.7" stroke-dashoffset="0.7"/>
<text transform="translate(418.2,12.1) scale(1.0,1.15)" text-anchor="end" font-size="5.6" font-weight="bold" fill="#1a1a1a" stroke="#1a1a1a" stroke-width="0.16">20</text>
<text transform="translate(418.2,35.83) scale(1.0,1.15)" text-anchor="end" font-size="5.6" font-weight="bold" fill="#1a1a1a" stroke="#1a1a1a" stroke-width="0.16">15</text>
<text transform="translate(418.2,59.57) scale(1.0,1.15)" text-anchor="end" font-size="5.6" font-weight="bold" fill="#1a1a1a" stroke="#1a1a1a" stroke-width="0.16">10</text>
<text transform="translate(418.2,83.3) scale(1.0,1.15)" text-anchor="end" font-size="5.6" font-weight="bold" fill="#1a1a1a" stroke="#1a1a1a" stroke-width="0.16">5</text>
<text transform="translate(405.3,46.9) rotate(-90) scale(1.0,1.15)" text-anchor="middle" font-size="6.4" font-weight="bold" fill="#111" stroke="#111" stroke-width="0.15">FOM [fJ/C]</text>
<text transform="translate(428.99,86.3) rotate(-90) scale(1.0,1.05)" text-anchor="end" font-size="5.8" font-weight="bold" fill="#1a1a1a" stroke="#1a1a1a" stroke-width="0.1">0.1</text>
<text transform="translate(436.54,86.3) rotate(-90) scale(1.0,1.05)" text-anchor="end" font-size="5.8" font-weight="bold" fill="#1a1a1a" stroke="#1a1a1a" stroke-width="0.1">0.2</text>
<text transform="translate(444.1,86.3) rotate(-90) scale(1.0,1.05)" text-anchor="end" font-size="5.8" font-weight="bold" fill="#1a1a1a" stroke="#1a1a1a" stroke-width="0.1">0.3</text>
<text transform="translate(451.65,86.3) rotate(-90) scale(1.0,1.05)" text-anchor="end" font-size="5.8" font-weight="bold" fill="#1a1a1a" stroke="#1a1a1a" stroke-width="0.1">0.5</text>
<text transform="translate(459.21,86.3) rotate(-90) scale(1.0,1.05)" text-anchor="end" font-size="5.8" font-weight="bold" fill="#1a1a1a" stroke="#1a1a1a" stroke-width="0.1">0.6</text>
<text transform="translate(466.76,86.3) rotate(-90) scale(1.0,1.05)" text-anchor="end" font-size="5.8" font-weight="bold" fill="#1a1a1a" stroke="#1a1a1a" stroke-width="0.1">0.7</text>
<text transform="translate(474.32,86.3) rotate(-90) scale(1.0,1.05)" text-anchor="end" font-size="5.8" font-weight="bold" fill="#1a1a1a" stroke="#1a1a1a" stroke-width="0.1">0.8</text>
<text transform="translate(481.87,86.3) rotate(-90) scale(1.0,1.05)" text-anchor="end" font-size="5.8" font-weight="bold" fill="#1a1a1a" stroke="#1a1a1a" stroke-width="0.1">1.0</text>
<text transform="translate(489.43,86.3) rotate(-90) scale(1.0,1.05)" text-anchor="end" font-size="5.8" font-weight="bold" fill="#1a1a1a" stroke="#1a1a1a" stroke-width="0.1">1.1</text>
<text transform="translate(496.98,86.3) rotate(-90) scale(1.0,1.05)" text-anchor="end" font-size="5.8" font-weight="bold" fill="#1a1a1a" stroke="#1a1a1a" stroke-width="0.1">1.2</text>
<text transform="translate(504.54,86.3) rotate(-90) scale(1.0,1.05)" text-anchor="end" font-size="5.8" font-weight="bold" fill="#1a1a1a" stroke="#1a1a1a" stroke-width="0.1">1.3</text>
<text transform="translate(512.09,86.3) rotate(-90) scale(1.0,1.05)" text-anchor="end" font-size="5.8" font-weight="bold" fill="#1a1a1a" stroke="#1a1a1a" stroke-width="0.1">1.5</text>
<text transform="translate(519.65,86.3) rotate(-90) scale(1.0,1.05)" text-anchor="end" font-size="5.8" font-weight="bold" fill="#1a1a1a" stroke="#1a1a1a" stroke-width="0.1">1.6</text>
<text transform="translate(527.2,86.3) rotate(-90) scale(1.0,1.05)" text-anchor="end" font-size="5.8" font-weight="bold" fill="#1a1a1a" stroke="#1a1a1a" stroke-width="0.1">1.7</text>
<text transform="translate(534.76,86.3) rotate(-90) scale(1.0,1.05)" text-anchor="end" font-size="5.8" font-weight="bold" fill="#1a1a1a" stroke="#1a1a1a" stroke-width="0.1">1.8</text>
<text transform="translate(542.31,86.3) rotate(-90) scale(1.0,1.05)" text-anchor="end" font-size="5.8" font-weight="bold" fill="#1a1a1a" stroke="#1a1a1a" stroke-width="0.1">2.0</text>
<polyline fill="none" stroke="#4563a3" stroke-width="0.95" points="426.49,61.4 430.27,55.3 434.04,62.7 437.82,64.8 441.6,60.7 445.38,60.7 449.15,60.7 452.93,60 456.71,58.7 460.49,57.3 464.26,63.4 468.04,56.6 471.82,56.6 475.6,58 479.37,61.1 483.15,51.9 486.93,49.8 490.7,52.5 494.48,53.9 498.26,51.9 502.04,49.7 505.81,50.1 509.59,44.5 513.37,43 517.15,38.2 520.92,52.7 524.7,31.3 528.48,59.4 532.26,42.2 536.03,41.5 539.81,40"/>
<circle cx="426.49" cy="61.4" r="1.75" fill="#172a6a"/>
<circle cx="430.27" cy="55.3" r="1.75" fill="#172a6a"/>
<circle cx="434.04" cy="62.7" r="1.75" fill="#172a6a"/>
<circle cx="437.82" cy="64.8" r="1.75" fill="#172a6a"/>
<circle cx="441.6" cy="60.7" r="1.75" fill="#172a6a"/>
<circle cx="445.38" cy="60.7" r="1.75" fill="#172a6a"/>
<circle cx="449.15" cy="60.7" r="1.75" fill="#172a6a"/>
<circle cx="452.93" cy="60" r="1.75" fill="#172a6a"/>
<circle cx="456.71" cy="58.7" r="1.75" fill="#172a6a"/>
<circle cx="460.49" cy="57.3" r="1.75" fill="#172a6a"/>
<circle cx="464.26" cy="63.4" r="1.75" fill="#172a6a"/>
<circle cx="468.04" cy="56.6" r="1.75" fill="#172a6a"/>
<circle cx="471.82" cy="56.6" r="1.75" fill="#172a6a"/>
<circle cx="475.6" cy="58" r="1.75" fill="#172a6a"/>
<circle cx="479.37" cy="61.1" r="1.75" fill="#172a6a"/>
<circle cx="483.15" cy="51.9" r="1.75" fill="#172a6a"/>
<circle cx="486.93" cy="49.8" r="1.75" fill="#172a6a"/>
<circle cx="490.7" cy="52.5" r="1.75" fill="#172a6a"/>
<circle cx="494.48" cy="53.9" r="1.75" fill="#172a6a"/>
<circle cx="498.26" cy="51.9" r="1.75" fill="#172a6a"/>
<circle cx="502.04" cy="49.7" r="1.75" fill="#172a6a"/>
<circle cx="505.81" cy="50.1" r="1.75" fill="#172a6a"/>
<circle cx="509.59" cy="44.5" r="1.75" fill="#172a6a"/>
<circle cx="513.37" cy="43" r="1.75" fill="#172a6a"/>
<circle cx="517.15" cy="38.2" r="1.75" fill="#172a6a"/>
<circle cx="520.92" cy="52.7" r="1.75" fill="#172a6a"/>
<circle cx="524.7" cy="31.3" r="1.75" fill="#172a6a"/>
<circle cx="528.48" cy="59.4" r="1.75" fill="#172a6a"/>
<circle cx="532.26" cy="42.2" r="1.75" fill="#172a6a"/>
<circle cx="536.03" cy="41.5" r="1.75" fill="#172a6a"/>
<circle cx="539.81" cy="40" r="1.75" fill="#172a6a"/>
<polyline fill="none" stroke="#444" stroke-width="0.95" points="426.49,52.5 430.27,47.5 434.04,47.8 437.82,45.7 441.6,57.3 445.38,53.9 449.15,58.7 452.93,51.2 456.71,51.2 460.49,51.2 464.26,43 468.04,51.2 471.82,43.7 475.6,50.5 479.37,47.1 483.15,49.1 486.93,49.8 490.7,58.7 494.48,55.9 498.26,49.1 502.04,42.2 505.81,41.5 509.59,46 513.37,43 517.15,40.7 520.92,48.2 524.7,44.5 528.48,44.5 532.26,53.4 536.03,42.2 539.81,35"/>
<rect x="424.89" y="50.9" width="3.2" height="3.2" fill="#fff" stroke="#111" stroke-width="0.9"/>
<rect x="428.67" y="45.9" width="3.2" height="3.2" fill="#fff" stroke="#111" stroke-width="0.9"/>
<rect x="432.44" y="46.2" width="3.2" height="3.2" fill="#fff" stroke="#111" stroke-width="0.9"/>
<rect x="436.22" y="44.1" width="3.2" height="3.2" fill="#fff" stroke="#111" stroke-width="0.9"/>
<rect x="440" y="55.7" width="3.2" height="3.2" fill="#fff" stroke="#111" stroke-width="0.9"/>
<rect x="443.78" y="52.3" width="3.2" height="3.2" fill="#fff" stroke="#111" stroke-width="0.9"/>
<rect x="447.55" y="57.1" width="3.2" height="3.2" fill="#fff" stroke="#111" stroke-width="0.9"/>
<rect x="451.33" y="49.6" width="3.2" height="3.2" fill="#fff" stroke="#111" stroke-width="0.9"/>
<rect x="455.11" y="49.6" width="3.2" height="3.2" fill="#fff" stroke="#111" stroke-width="0.9"/>
<rect x="458.89" y="49.6" width="3.2" height="3.2" fill="#fff" stroke="#111" stroke-width="0.9"/>
<rect x="462.66" y="41.4" width="3.2" height="3.2" fill="#fff" stroke="#111" stroke-width="0.9"/>
<rect x="466.44" y="49.6" width="3.2" height="3.2" fill="#fff" stroke="#111" stroke-width="0.9"/>
<rect x="470.22" y="42.1" width="3.2" height="3.2" fill="#fff" stroke="#111" stroke-width="0.9"/>
<rect x="474" y="48.9" width="3.2" height="3.2" fill="#fff" stroke="#111" stroke-width="0.9"/>
<rect x="477.77" y="45.5" width="3.2" height="3.2" fill="#fff" stroke="#111" stroke-width="0.9"/>
<rect x="481.55" y="47.5" width="3.2" height="3.2" fill="#fff" stroke="#111" stroke-width="0.9"/>
<rect x="485.33" y="48.2" width="3.2" height="3.2" fill="#fff" stroke="#111" stroke-width="0.9"/>
<rect x="489.1" y="57.1" width="3.2" height="3.2" fill="#fff" stroke="#111" stroke-width="0.9"/>
<rect x="492.88" y="54.3" width="3.2" height="3.2" fill="#fff" stroke="#111" stroke-width="0.9"/>
<rect x="496.66" y="47.5" width="3.2" height="3.2" fill="#fff" stroke="#111" stroke-width="0.9"/>
<rect x="500.44" y="40.6" width="3.2" height="3.2" fill="#fff" stroke="#111" stroke-width="0.9"/>
<rect x="504.21" y="39.9" width="3.2" height="3.2" fill="#fff" stroke="#111" stroke-width="0.9"/>
<rect x="507.99" y="44.4" width="3.2" height="3.2" fill="#fff" stroke="#111" stroke-width="0.9"/>
<rect x="511.77" y="41.4" width="3.2" height="3.2" fill="#fff" stroke="#111" stroke-width="0.9"/>
<rect x="515.55" y="39.1" width="3.2" height="3.2" fill="#fff" stroke="#111" stroke-width="0.9"/>
<rect x="519.32" y="46.6" width="3.2" height="3.2" fill="#fff" stroke="#111" stroke-width="0.9"/>
<rect x="523.1" y="42.9" width="3.2" height="3.2" fill="#fff" stroke="#111" stroke-width="0.9"/>
<rect x="526.88" y="42.9" width="3.2" height="3.2" fill="#fff" stroke="#111" stroke-width="0.9"/>
<rect x="530.66" y="51.8" width="3.2" height="3.2" fill="#fff" stroke="#111" stroke-width="0.9"/>
<rect x="534.43" y="40.6" width="3.2" height="3.2" fill="#fff" stroke="#111" stroke-width="0.9"/>
<rect x="538.21" y="33.4" width="3.2" height="3.2" fill="#fff" stroke="#111" stroke-width="0.9"/>
<polyline fill="none" stroke="#d24b4b" stroke-width="0.95" points="426.49,46.1 430.27,43 434.04,52.5 437.82,53.9 441.6,47.8 445.38,51.2 449.15,51.2 452.93,45 456.71,51.2 460.49,45.7 464.26,51.2 468.04,44.4 471.82,43 475.6,38.2 479.37,51.2 483.15,41 486.93,49.8 490.7,36.2 494.48,51.2 498.26,45 502.04,45.2 505.81,43 509.59,53.4 513.37,37.7 517.15,41.5 520.92,40.7 524.7,44.5 528.48,32.5 532.26,51.2 536.03,34 539.81,41.5"/>
<path d="M426.49,43.9L428.49,47.5L424.49,47.5Z" fill="#c00000"/>
<path d="M430.27,40.8L432.27,44.4L428.27,44.4Z" fill="#c00000"/>
<path d="M434.04,50.3L436.04,53.9L432.04,53.9Z" fill="#c00000"/>
<path d="M437.82,51.7L439.82,55.3L435.82,55.3Z" fill="#c00000"/>
<path d="M441.6,45.6L443.6,49.2L439.6,49.2Z" fill="#c00000"/>
<path d="M445.38,49L447.38,52.6L443.38,52.6Z" fill="#c00000"/>
<path d="M449.15,49L451.15,52.6L447.15,52.6Z" fill="#c00000"/>
<path d="M452.93,42.8L454.93,46.4L450.93,46.4Z" fill="#c00000"/>
<path d="M456.71,49L458.71,52.6L454.71,52.6Z" fill="#c00000"/>
<path d="M460.49,43.5L462.49,47.1L458.49,47.1Z" fill="#c00000"/>
<path d="M464.26,49L466.26,52.6L462.26,52.6Z" fill="#c00000"/>
<path d="M468.04,42.2L470.04,45.8L466.04,45.8Z" fill="#c00000"/>
<path d="M471.82,40.8L473.82,44.4L469.82,44.4Z" fill="#c00000"/>
<path d="M475.6,36L477.6,39.6L473.6,39.6Z" fill="#c00000"/>
<path d="M479.37,49L481.37,52.6L477.37,52.6Z" fill="#c00000"/>
<path d="M483.15,38.8L485.15,42.4L481.15,42.4Z" fill="#c00000"/>
<path d="M486.93,47.6L488.93,51.2L484.93,51.2Z" fill="#c00000"/>
<path d="M490.7,34L492.7,37.6L488.7,37.6Z" fill="#c00000"/>
<path d="M494.48,49L496.48,52.6L492.48,52.6Z" fill="#c00000"/>
<path d="M498.26,42.8L500.26,46.4L496.26,46.4Z" fill="#c00000"/>
<path d="M502.04,43L504.04,46.6L500.04,46.6Z" fill="#c00000"/>
<path d="M505.81,40.8L507.81,44.4L503.81,44.4Z" fill="#c00000"/>
<path d="M509.59,51.2L511.59,54.8L507.59,54.8Z" fill="#c00000"/>
<path d="M513.37,35.5L515.37,39.1L511.37,39.1Z" fill="#c00000"/>
<path d="M517.15,39.3L519.15,42.9L515.15,42.9Z" fill="#c00000"/>
<path d="M520.92,38.5L522.92,42.1L518.92,42.1Z" fill="#c00000"/>
<path d="M524.7,42.3L526.7,45.9L522.7,45.9Z" fill="#c00000"/>
<path d="M528.48,30.3L530.48,33.9L526.48,33.9Z" fill="#c00000"/>
<path d="M532.26,49L534.26,52.6L530.26,52.6Z" fill="#c00000"/>
<path d="M536.03,31.8L538.03,35.4L534.03,35.4Z" fill="#c00000"/>
<path d="M539.81,39.3L541.81,42.9L537.81,42.9Z" fill="#c00000"/>
<rect x="424.6" y="9.8" width="117.1" height="71.2" fill="none" stroke="#111" stroke-width="1.3"/>
<line x1="470.7" y1="14.8" x2="479.4" y2="14.8" stroke="#4563a3" stroke-width="0.9"/>
<circle cx="475.05" cy="14.8" r="1.75" fill="#172a6a"/>
<text transform="translate(480.9,17.2) scale(1.0,1.15)" font-size="5.6" font-weight="bold" fill="#1a1a1a" stroke="#1a1a1a" stroke-width="0.14">SS</text>
<line x1="495.4" y1="14.8" x2="504.1" y2="14.8" stroke="#444" stroke-width="0.9"/>
<rect x="498.15" y="13.2" width="3.2" height="3.2" fill="#fff" stroke="#111" stroke-width="0.9"/>
<text transform="translate(505.6,17.2) scale(1.0,1.15)" font-size="5.6" font-weight="bold" fill="#1a1a1a" stroke="#1a1a1a" stroke-width="0.14">TT</text>
<line x1="517.2" y1="14.8" x2="526.6" y2="14.8" stroke="#d24b4b" stroke-width="0.9"/>
<path d="M521.9,12.8L523.7,16.1L520.1,16.1Z" fill="#c00000"/>
<text transform="translate(528.1,17.2) scale(1.0,1.15)" font-size="5.6" font-weight="bold" fill="#1a1a1a" stroke="#1a1a1a" stroke-width="0.14">FF</text>
<line x1="120.3" y1="160.91" x2="235.4" y2="160.91" stroke="#c8c8c8" stroke-width="0.9" stroke-dasharray="3.3 2.7" stroke-dashoffset="0.7"/>
<line x1="120.3" y1="150.73" x2="235.4" y2="150.73" stroke="#c8c8c8" stroke-width="0.9" stroke-dasharray="3.3 2.7" stroke-dashoffset="0.7"/>
<line x1="120.3" y1="140.54" x2="235.4" y2="140.54" stroke="#c8c8c8" stroke-width="0.9" stroke-dasharray="3.3 2.7" stroke-dashoffset="0.7"/>
<line x1="120.3" y1="130.36" x2="235.4" y2="130.36" stroke="#c8c8c8" stroke-width="0.9" stroke-dasharray="3.3 2.7" stroke-dashoffset="0.7"/>
<line x1="120.3" y1="120.17" x2="235.4" y2="120.17" stroke="#c8c8c8" stroke-width="0.9" stroke-dasharray="3.3 2.7" stroke-dashoffset="0.7"/>
<line x1="120.3" y1="109.99" x2="235.4" y2="109.99" stroke="#c8c8c8" stroke-width="0.9" stroke-dasharray="3.3 2.7" stroke-dashoffset="0.7"/>
<text transform="translate(112.9,102.1) scale(1.0,1.15)" text-anchor="end" font-size="5.6" font-weight="bold" fill="#1a1a1a" stroke="#1a1a1a" stroke-width="0.16">8.5</text>
<text transform="translate(112.9,112.29) scale(1.0,1.15)" text-anchor="end" font-size="5.6" font-weight="bold" fill="#1a1a1a" stroke="#1a1a1a" stroke-width="0.16">8.0</text>
<text transform="translate(112.9,122.47) scale(1.0,1.15)" text-anchor="end" font-size="5.6" font-weight="bold" fill="#1a1a1a" stroke="#1a1a1a" stroke-width="0.16">7.5</text>
<text transform="translate(112.9,132.66) scale(1.0,1.15)" text-anchor="end" font-size="5.6" font-weight="bold" fill="#1a1a1a" stroke="#1a1a1a" stroke-width="0.16">7.0</text>
<text transform="translate(112.9,142.84) scale(1.0,1.15)" text-anchor="end" font-size="5.6" font-weight="bold" fill="#1a1a1a" stroke="#1a1a1a" stroke-width="0.16">6.5</text>
<text transform="translate(112.9,153.03) scale(1.0,1.15)" text-anchor="end" font-size="5.6" font-weight="bold" fill="#1a1a1a" stroke="#1a1a1a" stroke-width="0.16">6.0</text>
<text transform="translate(112.9,163.21) scale(1.0,1.15)" text-anchor="end" font-size="5.6" font-weight="bold" fill="#1a1a1a" stroke="#1a1a1a" stroke-width="0.16">5.5</text>
<text transform="translate(112.9,173.4) scale(1.0,1.15)" text-anchor="end" font-size="5.6" font-weight="bold" fill="#1a1a1a" stroke="#1a1a1a" stroke-width="0.16">5.0</text>
<text transform="translate(100,136.95) rotate(-90) scale(1.0,1.15)" text-anchor="middle" font-size="6.4" font-weight="bold" fill="#111" stroke="#111" stroke-width="0.15">ENOB</text>
<text transform="translate(125.7,176.4) rotate(-90) scale(1.0,1.05)" text-anchor="end" font-size="5.8" font-weight="bold" fill="#1a1a1a" stroke="#1a1a1a" stroke-width="0.1">0.1</text>
<text transform="translate(133.51,176.4) rotate(-90) scale(1.0,1.05)" text-anchor="end" font-size="5.8" font-weight="bold" fill="#1a1a1a" stroke="#1a1a1a" stroke-width="0.1">0.2</text>
<text transform="translate(141.32,176.4) rotate(-90) scale(1.0,1.05)" text-anchor="end" font-size="5.8" font-weight="bold" fill="#1a1a1a" stroke="#1a1a1a" stroke-width="0.1">0.2</text>
<text transform="translate(149.12,176.4) rotate(-90) scale(1.0,1.05)" text-anchor="end" font-size="5.8" font-weight="bold" fill="#1a1a1a" stroke="#1a1a1a" stroke-width="0.1">0.3</text>
<text transform="translate(156.93,176.4) rotate(-90) scale(1.0,1.05)" text-anchor="end" font-size="5.8" font-weight="bold" fill="#1a1a1a" stroke="#1a1a1a" stroke-width="0.1">0.3</text>
<text transform="translate(164.74,176.4) rotate(-90) scale(1.0,1.05)" text-anchor="end" font-size="5.8" font-weight="bold" fill="#1a1a1a" stroke="#1a1a1a" stroke-width="0.1">0.4</text>
<text transform="translate(172.54,176.4) rotate(-90) scale(1.0,1.05)" text-anchor="end" font-size="5.8" font-weight="bold" fill="#1a1a1a" stroke="#1a1a1a" stroke-width="0.1">0.5</text>
<text transform="translate(180.35,176.4) rotate(-90) scale(1.0,1.05)" text-anchor="end" font-size="5.8" font-weight="bold" fill="#1a1a1a" stroke="#1a1a1a" stroke-width="0.1">0.5</text>
<text transform="translate(188.16,176.4) rotate(-90) scale(1.0,1.05)" text-anchor="end" font-size="5.8" font-weight="bold" fill="#1a1a1a" stroke="#1a1a1a" stroke-width="0.1">0.6</text>
<text transform="translate(195.96,176.4) rotate(-90) scale(1.0,1.05)" text-anchor="end" font-size="5.8" font-weight="bold" fill="#1a1a1a" stroke="#1a1a1a" stroke-width="0.1">0.7</text>
<text transform="translate(203.77,176.4) rotate(-90) scale(1.0,1.05)" text-anchor="end" font-size="5.8" font-weight="bold" fill="#1a1a1a" stroke="#1a1a1a" stroke-width="0.1">0.7</text>
<text transform="translate(211.58,176.4) rotate(-90) scale(1.0,1.05)" text-anchor="end" font-size="5.8" font-weight="bold" fill="#1a1a1a" stroke="#1a1a1a" stroke-width="0.1">0.8</text>
<text transform="translate(219.38,176.4) rotate(-90) scale(1.0,1.05)" text-anchor="end" font-size="5.8" font-weight="bold" fill="#1a1a1a" stroke="#1a1a1a" stroke-width="0.1">0.8</text>
<text transform="translate(227.19,176.4) rotate(-90) scale(1.0,1.05)" text-anchor="end" font-size="5.8" font-weight="bold" fill="#1a1a1a" stroke="#1a1a1a" stroke-width="0.1">0.9</text>
<text transform="translate(235,176.4) rotate(-90) scale(1.0,1.05)" text-anchor="end" font-size="5.8" font-weight="bold" fill="#1a1a1a" stroke="#1a1a1a" stroke-width="0.1">1.0</text>
<polyline fill="none" stroke="#4563a3" stroke-width="0.95" points="123.2,131.4 131.01,133.6 138.82,133.3 146.62,131.4 154.43,140.4 162.24,134.2 170.04,135.8 177.85,141.4 185.66,131 193.46,133.3 201.27,137.7 209.08,135.8 216.88,135.8 224.69,136.9 232.5,136.6"/>
<circle cx="123.2" cy="131.4" r="1.75" fill="#172a6a"/>
<circle cx="131.01" cy="133.6" r="1.75" fill="#172a6a"/>
<circle cx="138.82" cy="133.3" r="1.75" fill="#172a6a"/>
<circle cx="146.62" cy="131.4" r="1.75" fill="#172a6a"/>
<circle cx="154.43" cy="140.4" r="1.75" fill="#172a6a"/>
<circle cx="162.24" cy="134.2" r="1.75" fill="#172a6a"/>
<circle cx="170.04" cy="135.8" r="1.75" fill="#172a6a"/>
<circle cx="177.85" cy="141.4" r="1.75" fill="#172a6a"/>
<circle cx="185.66" cy="131" r="1.75" fill="#172a6a"/>
<circle cx="193.46" cy="133.3" r="1.75" fill="#172a6a"/>
<circle cx="201.27" cy="137.7" r="1.75" fill="#172a6a"/>
<circle cx="209.08" cy="135.8" r="1.75" fill="#172a6a"/>
<circle cx="216.88" cy="135.8" r="1.75" fill="#172a6a"/>
<circle cx="224.69" cy="136.9" r="1.75" fill="#172a6a"/>
<circle cx="232.5" cy="136.6" r="1.75" fill="#172a6a"/>
<polyline fill="none" stroke="#444" stroke-width="0.95" points="123.2,119.5 131.01,123.3 138.82,118.7 146.62,116.7 154.43,120.5 162.24,120.2 170.04,120.5 177.85,120 185.66,121.6 193.46,122.2 201.27,118 209.08,122.7 216.88,123.3 224.69,121.6 232.5,120"/>
<rect x="121.6" y="117.9" width="3.2" height="3.2" fill="#fff" stroke="#111" stroke-width="0.9"/>
<rect x="129.41" y="121.7" width="3.2" height="3.2" fill="#fff" stroke="#111" stroke-width="0.9"/>
<rect x="137.22" y="117.1" width="3.2" height="3.2" fill="#fff" stroke="#111" stroke-width="0.9"/>
<rect x="145.02" y="115.1" width="3.2" height="3.2" fill="#fff" stroke="#111" stroke-width="0.9"/>
<rect x="152.83" y="118.9" width="3.2" height="3.2" fill="#fff" stroke="#111" stroke-width="0.9"/>
<rect x="160.64" y="118.6" width="3.2" height="3.2" fill="#fff" stroke="#111" stroke-width="0.9"/>
<rect x="168.44" y="118.9" width="3.2" height="3.2" fill="#fff" stroke="#111" stroke-width="0.9"/>
<rect x="176.25" y="118.4" width="3.2" height="3.2" fill="#fff" stroke="#111" stroke-width="0.9"/>
<rect x="184.06" y="120" width="3.2" height="3.2" fill="#fff" stroke="#111" stroke-width="0.9"/>
<rect x="191.86" y="120.6" width="3.2" height="3.2" fill="#fff" stroke="#111" stroke-width="0.9"/>
<rect x="199.67" y="116.4" width="3.2" height="3.2" fill="#fff" stroke="#111" stroke-width="0.9"/>
<rect x="207.48" y="121.1" width="3.2" height="3.2" fill="#fff" stroke="#111" stroke-width="0.9"/>
<rect x="215.28" y="121.7" width="3.2" height="3.2" fill="#fff" stroke="#111" stroke-width="0.9"/>
<rect x="223.09" y="120" width="3.2" height="3.2" fill="#fff" stroke="#111" stroke-width="0.9"/>
<rect x="230.9" y="118.4" width="3.2" height="3.2" fill="#fff" stroke="#111" stroke-width="0.9"/>
<polyline fill="none" stroke="#d24b4b" stroke-width="0.95" points="123.2,121.6 131.01,119.5 138.82,122.2 146.62,118.4 154.43,117.6 162.24,123.3 170.04,117.3 177.85,123.3 185.66,125.7 193.46,116.5 201.27,137.4 209.08,127.8 216.88,127.4 224.69,120.5 232.5,123.8"/>
<path d="M123.2,119.4L125.2,123L121.2,123Z" fill="#c00000"/>
<path d="M131.01,117.3L133.01,120.9L129.01,120.9Z" fill="#c00000"/>
<path d="M138.82,120L140.82,123.6L136.82,123.6Z" fill="#c00000"/>
<path d="M146.62,116.2L148.62,119.8L144.62,119.8Z" fill="#c00000"/>
<path d="M154.43,115.4L156.43,119L152.43,119Z" fill="#c00000"/>
<path d="M162.24,121.1L164.24,124.7L160.24,124.7Z" fill="#c00000"/>
<path d="M170.04,115.1L172.04,118.7L168.04,118.7Z" fill="#c00000"/>
<path d="M177.85,121.1L179.85,124.7L175.85,124.7Z" fill="#c00000"/>
<path d="M185.66,123.5L187.66,127.1L183.66,127.1Z" fill="#c00000"/>
<path d="M193.46,114.3L195.46,117.9L191.46,117.9Z" fill="#c00000"/>
<path d="M201.27,135.2L203.27,138.8L199.27,138.8Z" fill="#c00000"/>
<path d="M209.08,125.6L211.08,129.2L207.08,129.2Z" fill="#c00000"/>
<path d="M216.88,125.2L218.88,128.8L214.88,128.8Z" fill="#c00000"/>
<path d="M224.69,118.3L226.69,121.9L222.69,121.9Z" fill="#c00000"/>
<path d="M232.5,121.6L234.5,125.2L230.5,125.2Z" fill="#c00000"/>
<rect x="119.3" y="99.8" width="117.1" height="71.3" fill="none" stroke="#111" stroke-width="1.3"/>
<line x1="126.9" y1="152.5" x2="136.2" y2="152.5" stroke="#4563a3" stroke-width="0.9"/>
<circle cx="131.55" cy="152.5" r="1.75" fill="#172a6a"/>
<text transform="translate(136.7,154.9) scale(1.0,1.15)" font-size="5.6" font-weight="bold" fill="#1a1a1a" stroke="#1a1a1a" stroke-width="0.14">0.75V VDD</text>
<line x1="126.9" y1="159.3" x2="136.2" y2="159.3" stroke="#444" stroke-width="0.9"/>
<rect x="129.95" y="157.7" width="3.2" height="3.2" fill="#fff" stroke="#111" stroke-width="0.9"/>
<text transform="translate(136.7,161.7) scale(1.0,1.15)" font-size="5.6" font-weight="bold" fill="#1a1a1a" stroke="#1a1a1a" stroke-width="0.14">0.8V VDD</text>
<line x1="126.9" y1="166.1" x2="136.2" y2="166.1" stroke="#d24b4b" stroke-width="0.9"/>
<path d="M131.55,164.1L133.35,167.4L129.75,167.4Z" fill="#c00000"/>
<text transform="translate(136.7,168.5) scale(1.0,1.15)" font-size="5.6" font-weight="bold" fill="#1a1a1a" stroke="#1a1a1a" stroke-width="0.14">0.85V VDD</text>
<line x1="274.4" y1="153.28" x2="389.3" y2="153.28" stroke="#c8c8c8" stroke-width="0.9" stroke-dasharray="3.3 2.7" stroke-dashoffset="0.7"/>
<line x1="274.4" y1="135.45" x2="389.3" y2="135.45" stroke="#c8c8c8" stroke-width="0.9" stroke-dasharray="3.3 2.7" stroke-dashoffset="0.7"/>
<line x1="274.4" y1="117.62" x2="389.3" y2="117.62" stroke="#c8c8c8" stroke-width="0.9" stroke-dasharray="3.3 2.7" stroke-dashoffset="0.7"/>
<text transform="translate(267,102.1) scale(1.0,1.15)" text-anchor="end" font-size="5.6" font-weight="bold" fill="#1a1a1a" stroke="#1a1a1a" stroke-width="0.16">60</text>
<text transform="translate(267,119.92) scale(1.0,1.15)" text-anchor="end" font-size="5.6" font-weight="bold" fill="#1a1a1a" stroke="#1a1a1a" stroke-width="0.16">55</text>
<text transform="translate(267,137.75) scale(1.0,1.15)" text-anchor="end" font-size="5.6" font-weight="bold" fill="#1a1a1a" stroke="#1a1a1a" stroke-width="0.16">50</text>
<text transform="translate(267,155.57) scale(1.0,1.15)" text-anchor="end" font-size="5.6" font-weight="bold" fill="#1a1a1a" stroke="#1a1a1a" stroke-width="0.16">45</text>
<text transform="translate(267,173.4) scale(1.0,1.15)" text-anchor="end" font-size="5.6" font-weight="bold" fill="#1a1a1a" stroke="#1a1a1a" stroke-width="0.16">40</text>
<text transform="translate(254.1,136.95) rotate(-90) scale(1.0,1.15)" text-anchor="middle" font-size="6.4" font-weight="bold" fill="#111" stroke="#111" stroke-width="0.15">SFDR [dB]</text>
<text transform="translate(279.8,176.4) rotate(-90) scale(1.0,1.05)" text-anchor="end" font-size="5.8" font-weight="bold" fill="#1a1a1a" stroke="#1a1a1a" stroke-width="0.1">0.1</text>
<text transform="translate(287.59,176.4) rotate(-90) scale(1.0,1.05)" text-anchor="end" font-size="5.8" font-weight="bold" fill="#1a1a1a" stroke="#1a1a1a" stroke-width="0.1">0.2</text>
<text transform="translate(295.38,176.4) rotate(-90) scale(1.0,1.05)" text-anchor="end" font-size="5.8" font-weight="bold" fill="#1a1a1a" stroke="#1a1a1a" stroke-width="0.1">0.2</text>
<text transform="translate(303.18,176.4) rotate(-90) scale(1.0,1.05)" text-anchor="end" font-size="5.8" font-weight="bold" fill="#1a1a1a" stroke="#1a1a1a" stroke-width="0.1">0.3</text>
<text transform="translate(310.97,176.4) rotate(-90) scale(1.0,1.05)" text-anchor="end" font-size="5.8" font-weight="bold" fill="#1a1a1a" stroke="#1a1a1a" stroke-width="0.1">0.3</text>
<text transform="translate(318.76,176.4) rotate(-90) scale(1.0,1.05)" text-anchor="end" font-size="5.8" font-weight="bold" fill="#1a1a1a" stroke="#1a1a1a" stroke-width="0.1">0.4</text>
<text transform="translate(326.56,176.4) rotate(-90) scale(1.0,1.05)" text-anchor="end" font-size="5.8" font-weight="bold" fill="#1a1a1a" stroke="#1a1a1a" stroke-width="0.1">0.5</text>
<text transform="translate(334.35,176.4) rotate(-90) scale(1.0,1.05)" text-anchor="end" font-size="5.8" font-weight="bold" fill="#1a1a1a" stroke="#1a1a1a" stroke-width="0.1">0.5</text>
<text transform="translate(342.14,176.4) rotate(-90) scale(1.0,1.05)" text-anchor="end" font-size="5.8" font-weight="bold" fill="#1a1a1a" stroke="#1a1a1a" stroke-width="0.1">0.6</text>
<text transform="translate(349.94,176.4) rotate(-90) scale(1.0,1.05)" text-anchor="end" font-size="5.8" font-weight="bold" fill="#1a1a1a" stroke="#1a1a1a" stroke-width="0.1">0.7</text>
<text transform="translate(357.73,176.4) rotate(-90) scale(1.0,1.05)" text-anchor="end" font-size="5.8" font-weight="bold" fill="#1a1a1a" stroke="#1a1a1a" stroke-width="0.1">0.7</text>
<text transform="translate(365.52,176.4) rotate(-90) scale(1.0,1.05)" text-anchor="end" font-size="5.8" font-weight="bold" fill="#1a1a1a" stroke="#1a1a1a" stroke-width="0.1">0.8</text>
<text transform="translate(373.32,176.4) rotate(-90) scale(1.0,1.05)" text-anchor="end" font-size="5.8" font-weight="bold" fill="#1a1a1a" stroke="#1a1a1a" stroke-width="0.1">0.8</text>
<text transform="translate(381.11,176.4) rotate(-90) scale(1.0,1.05)" text-anchor="end" font-size="5.8" font-weight="bold" fill="#1a1a1a" stroke="#1a1a1a" stroke-width="0.1">0.9</text>
<text transform="translate(388.9,176.4) rotate(-90) scale(1.0,1.05)" text-anchor="end" font-size="5.8" font-weight="bold" fill="#1a1a1a" stroke="#1a1a1a" stroke-width="0.1">1.0</text>
<polyline fill="none" stroke="#4563a3" stroke-width="0.95" points="277.3,133.3 285.09,141.4 292.88,135.1 300.68,140.4 308.47,142 316.26,135.2 324.06,146.4 331.85,153.4 339.64,139.2 347.44,133.3 355.23,134.2 363.02,130.7 370.82,141.2 378.61,155.3 386.4,143.4"/>
<circle cx="277.3" cy="133.3" r="1.75" fill="#172a6a"/>
<circle cx="285.09" cy="141.4" r="1.75" fill="#172a6a"/>
<circle cx="292.88" cy="135.1" r="1.75" fill="#172a6a"/>
<circle cx="300.68" cy="140.4" r="1.75" fill="#172a6a"/>
<circle cx="308.47" cy="142" r="1.75" fill="#172a6a"/>
<circle cx="316.26" cy="135.2" r="1.75" fill="#172a6a"/>
<circle cx="324.06" cy="146.4" r="1.75" fill="#172a6a"/>
<circle cx="331.85" cy="153.4" r="1.75" fill="#172a6a"/>
<circle cx="339.64" cy="139.2" r="1.75" fill="#172a6a"/>
<circle cx="347.44" cy="133.3" r="1.75" fill="#172a6a"/>
<circle cx="355.23" cy="134.2" r="1.75" fill="#172a6a"/>
<circle cx="363.02" cy="130.7" r="1.75" fill="#172a6a"/>
<circle cx="370.82" cy="141.2" r="1.75" fill="#172a6a"/>
<circle cx="378.61" cy="155.3" r="1.75" fill="#172a6a"/>
<circle cx="386.4" cy="143.4" r="1.75" fill="#172a6a"/>
<polyline fill="none" stroke="#444" stroke-width="0.95" points="277.3,119.4 285.09,136.5 292.88,122.9 300.68,124 308.47,131.6 316.26,125.6 324.06,131.1 331.85,127.7 339.64,132.2 347.44,129.4 355.23,118.4 363.02,136.7 370.82,138.4 378.61,132.2 386.4,118.7"/>
<rect x="275.7" y="117.8" width="3.2" height="3.2" fill="#fff" stroke="#111" stroke-width="0.9"/>
<rect x="283.49" y="134.9" width="3.2" height="3.2" fill="#fff" stroke="#111" stroke-width="0.9"/>
<rect x="291.28" y="121.3" width="3.2" height="3.2" fill="#fff" stroke="#111" stroke-width="0.9"/>
<rect x="299.08" y="122.4" width="3.2" height="3.2" fill="#fff" stroke="#111" stroke-width="0.9"/>
<rect x="306.87" y="130" width="3.2" height="3.2" fill="#fff" stroke="#111" stroke-width="0.9"/>
<rect x="314.66" y="124" width="3.2" height="3.2" fill="#fff" stroke="#111" stroke-width="0.9"/>
<rect x="322.46" y="129.5" width="3.2" height="3.2" fill="#fff" stroke="#111" stroke-width="0.9"/>
<rect x="330.25" y="126.1" width="3.2" height="3.2" fill="#fff" stroke="#111" stroke-width="0.9"/>
<rect x="338.04" y="130.6" width="3.2" height="3.2" fill="#fff" stroke="#111" stroke-width="0.9"/>
<rect x="345.84" y="127.8" width="3.2" height="3.2" fill="#fff" stroke="#111" stroke-width="0.9"/>
<rect x="353.63" y="116.8" width="3.2" height="3.2" fill="#fff" stroke="#111" stroke-width="0.9"/>
<rect x="361.42" y="135.1" width="3.2" height="3.2" fill="#fff" stroke="#111" stroke-width="0.9"/>
<rect x="369.22" y="136.8" width="3.2" height="3.2" fill="#fff" stroke="#111" stroke-width="0.9"/>
<rect x="377.01" y="130.6" width="3.2" height="3.2" fill="#fff" stroke="#111" stroke-width="0.9"/>
<rect x="384.8" y="117.1" width="3.2" height="3.2" fill="#fff" stroke="#111" stroke-width="0.9"/>
<polyline fill="none" stroke="#d24b4b" stroke-width="0.95" points="277.3,115.3 285.09,122.4 292.88,124 300.68,112.9 308.47,125.1 316.26,124.2 324.06,116.4 331.85,124.3 339.64,134.8 347.44,125.5 355.23,130.5 363.02,132.8 370.82,134.5 378.61,129.2 386.4,123.2"/>
<path d="M277.3,113.1L279.3,116.7L275.3,116.7Z" fill="#c00000"/>
<path d="M285.09,120.2L287.09,123.8L283.09,123.8Z" fill="#c00000"/>
<path d="M292.88,121.8L294.88,125.4L290.88,125.4Z" fill="#c00000"/>
<path d="M300.68,110.7L302.68,114.3L298.68,114.3Z" fill="#c00000"/>
<path d="M308.47,122.9L310.47,126.5L306.47,126.5Z" fill="#c00000"/>
<path d="M316.26,122L318.26,125.6L314.26,125.6Z" fill="#c00000"/>
<path d="M324.06,114.2L326.06,117.8L322.06,117.8Z" fill="#c00000"/>
<path d="M331.85,122.1L333.85,125.7L329.85,125.7Z" fill="#c00000"/>
<path d="M339.64,132.6L341.64,136.2L337.64,136.2Z" fill="#c00000"/>
<path d="M347.44,123.3L349.44,126.9L345.44,126.9Z" fill="#c00000"/>
<path d="M355.23,128.3L357.23,131.9L353.23,131.9Z" fill="#c00000"/>
<path d="M363.02,130.6L365.02,134.2L361.02,134.2Z" fill="#c00000"/>
<path d="M370.82,132.3L372.82,135.9L368.82,135.9Z" fill="#c00000"/>
<path d="M378.61,127L380.61,130.6L376.61,130.6Z" fill="#c00000"/>
<path d="M386.4,121L388.4,124.6L384.4,124.6Z" fill="#c00000"/>
<rect x="273.4" y="99.8" width="116.9" height="71.3" fill="none" stroke="#111" stroke-width="1.3"/>
<line x1="281" y1="152.5" x2="290.3" y2="152.5" stroke="#4563a3" stroke-width="0.9"/>
<circle cx="285.65" cy="152.5" r="1.75" fill="#172a6a"/>
<text transform="translate(290.8,154.9) scale(1.0,1.15)" font-size="5.6" font-weight="bold" fill="#1a1a1a" stroke="#1a1a1a" stroke-width="0.14">0.75V VDD</text>
<line x1="281" y1="159.3" x2="290.3" y2="159.3" stroke="#444" stroke-width="0.9"/>
<rect x="284.05" y="157.7" width="3.2" height="3.2" fill="#fff" stroke="#111" stroke-width="0.9"/>
<text transform="translate(290.8,161.7) scale(1.0,1.15)" font-size="5.6" font-weight="bold" fill="#1a1a1a" stroke="#1a1a1a" stroke-width="0.14">0.8V VDD</text>
<line x1="281" y1="166.1" x2="290.3" y2="166.1" stroke="#d24b4b" stroke-width="0.9"/>
<path d="M285.65,164.1L287.45,167.4L283.85,167.4Z" fill="#c00000"/>
<text transform="translate(290.8,168.5) scale(1.0,1.15)" font-size="5.6" font-weight="bold" fill="#1a1a1a" stroke="#1a1a1a" stroke-width="0.14">0.85V VDD</text>
<line x1="425.6" y1="153.28" x2="540.7" y2="153.28" stroke="#c8c8c8" stroke-width="0.9" stroke-dasharray="3.3 2.7" stroke-dashoffset="0.7"/>
<line x1="425.6" y1="135.45" x2="540.7" y2="135.45" stroke="#c8c8c8" stroke-width="0.9" stroke-dasharray="3.3 2.7" stroke-dashoffset="0.7"/>
<line x1="425.6" y1="117.62" x2="540.7" y2="117.62" stroke="#c8c8c8" stroke-width="0.9" stroke-dasharray="3.3 2.7" stroke-dashoffset="0.7"/>
<text transform="translate(418.2,102.1) scale(1.0,1.15)" text-anchor="end" font-size="5.6" font-weight="bold" fill="#1a1a1a" stroke="#1a1a1a" stroke-width="0.16">20</text>
<text transform="translate(418.2,119.92) scale(1.0,1.15)" text-anchor="end" font-size="5.6" font-weight="bold" fill="#1a1a1a" stroke="#1a1a1a" stroke-width="0.16">15</text>
<text transform="translate(418.2,137.75) scale(1.0,1.15)" text-anchor="end" font-size="5.6" font-weight="bold" fill="#1a1a1a" stroke="#1a1a1a" stroke-width="0.16">10</text>
<text transform="translate(418.2,155.57) scale(1.0,1.15)" text-anchor="end" font-size="5.6" font-weight="bold" fill="#1a1a1a" stroke="#1a1a1a" stroke-width="0.16">5</text>
<text transform="translate(418.2,173.4) scale(1.0,1.15)" text-anchor="end" font-size="5.6" font-weight="bold" fill="#1a1a1a" stroke="#1a1a1a" stroke-width="0.16">0</text>
<text transform="translate(405.3,136.95) rotate(-90) scale(1.0,1.15)" text-anchor="middle" font-size="6.4" font-weight="bold" fill="#111" stroke="#111" stroke-width="0.15">FOM [fJ/C]</text>
<text transform="translate(431,176.4) rotate(-90) scale(1.0,1.05)" text-anchor="end" font-size="5.8" font-weight="bold" fill="#1a1a1a" stroke="#1a1a1a" stroke-width="0.1">0.1</text>
<text transform="translate(438.81,176.4) rotate(-90) scale(1.0,1.05)" text-anchor="end" font-size="5.8" font-weight="bold" fill="#1a1a1a" stroke="#1a1a1a" stroke-width="0.1">0.2</text>
<text transform="translate(446.62,176.4) rotate(-90) scale(1.0,1.05)" text-anchor="end" font-size="5.8" font-weight="bold" fill="#1a1a1a" stroke="#1a1a1a" stroke-width="0.1">0.2</text>
<text transform="translate(454.42,176.4) rotate(-90) scale(1.0,1.05)" text-anchor="end" font-size="5.8" font-weight="bold" fill="#1a1a1a" stroke="#1a1a1a" stroke-width="0.1">0.3</text>
<text transform="translate(462.23,176.4) rotate(-90) scale(1.0,1.05)" text-anchor="end" font-size="5.8" font-weight="bold" fill="#1a1a1a" stroke="#1a1a1a" stroke-width="0.1">0.3</text>
<text transform="translate(470.04,176.4) rotate(-90) scale(1.0,1.05)" text-anchor="end" font-size="5.8" font-weight="bold" fill="#1a1a1a" stroke="#1a1a1a" stroke-width="0.1">0.4</text>
<text transform="translate(477.84,176.4) rotate(-90) scale(1.0,1.05)" text-anchor="end" font-size="5.8" font-weight="bold" fill="#1a1a1a" stroke="#1a1a1a" stroke-width="0.1">0.5</text>
<text transform="translate(485.65,176.4) rotate(-90) scale(1.0,1.05)" text-anchor="end" font-size="5.8" font-weight="bold" fill="#1a1a1a" stroke="#1a1a1a" stroke-width="0.1">0.5</text>
<text transform="translate(493.46,176.4) rotate(-90) scale(1.0,1.05)" text-anchor="end" font-size="5.8" font-weight="bold" fill="#1a1a1a" stroke="#1a1a1a" stroke-width="0.1">0.6</text>
<text transform="translate(501.26,176.4) rotate(-90) scale(1.0,1.05)" text-anchor="end" font-size="5.8" font-weight="bold" fill="#1a1a1a" stroke="#1a1a1a" stroke-width="0.1">0.7</text>
<text transform="translate(509.07,176.4) rotate(-90) scale(1.0,1.05)" text-anchor="end" font-size="5.8" font-weight="bold" fill="#1a1a1a" stroke="#1a1a1a" stroke-width="0.1">0.7</text>
<text transform="translate(516.88,176.4) rotate(-90) scale(1.0,1.05)" text-anchor="end" font-size="5.8" font-weight="bold" fill="#1a1a1a" stroke="#1a1a1a" stroke-width="0.1">0.8</text>
<text transform="translate(524.68,176.4) rotate(-90) scale(1.0,1.05)" text-anchor="end" font-size="5.8" font-weight="bold" fill="#1a1a1a" stroke="#1a1a1a" stroke-width="0.1">0.8</text>
<text transform="translate(532.49,176.4) rotate(-90) scale(1.0,1.05)" text-anchor="end" font-size="5.8" font-weight="bold" fill="#1a1a1a" stroke="#1a1a1a" stroke-width="0.1">0.9</text>
<text transform="translate(540.3,176.4) rotate(-90) scale(1.0,1.05)" text-anchor="end" font-size="5.8" font-weight="bold" fill="#1a1a1a" stroke="#1a1a1a" stroke-width="0.1">1.0</text>
<polyline fill="none" stroke="#4563a3" stroke-width="0.95" points="428.5,126.9 436.31,123.3 444.12,124.4 451.92,126.2 459.73,111.6 467.54,122.2 475.34,120.5 483.15,110.1 490.96,127.7 498.76,124.3 506.57,116.4 514.38,120.3 522.18,120 529.99,117.8 537.8,118.7"/>
<circle cx="428.5" cy="126.9" r="1.75" fill="#172a6a"/>
<circle cx="436.31" cy="123.3" r="1.75" fill="#172a6a"/>
<circle cx="444.12" cy="124.4" r="1.75" fill="#172a6a"/>
<circle cx="451.92" cy="126.2" r="1.75" fill="#172a6a"/>
<circle cx="459.73" cy="111.6" r="1.75" fill="#172a6a"/>
<circle cx="467.54" cy="122.2" r="1.75" fill="#172a6a"/>
<circle cx="475.34" cy="120.5" r="1.75" fill="#172a6a"/>
<circle cx="483.15" cy="110.1" r="1.75" fill="#172a6a"/>
<circle cx="490.96" cy="127.7" r="1.75" fill="#172a6a"/>
<circle cx="498.76" cy="124.3" r="1.75" fill="#172a6a"/>
<circle cx="506.57" cy="116.4" r="1.75" fill="#172a6a"/>
<circle cx="514.38" cy="120.3" r="1.75" fill="#172a6a"/>
<circle cx="522.18" cy="120" r="1.75" fill="#172a6a"/>
<circle cx="529.99" cy="117.8" r="1.75" fill="#172a6a"/>
<circle cx="537.8" cy="118.7" r="1.75" fill="#172a6a"/>
<polyline fill="none" stroke="#444" stroke-width="0.95" points="428.5,138.5 436.31,133.5 444.12,139.7 451.92,141.7 459.73,137.2 467.54,138 475.34,137.4 483.15,137.6 490.96,136.8 498.76,135.7 506.57,140.6 514.38,135.1 522.18,134.9 529.99,136.3 537.8,138"/>
<rect x="426.9" y="136.9" width="3.2" height="3.2" fill="#fff" stroke="#111" stroke-width="0.9"/>
<rect x="434.71" y="131.9" width="3.2" height="3.2" fill="#fff" stroke="#111" stroke-width="0.9"/>
<rect x="442.52" y="138.1" width="3.2" height="3.2" fill="#fff" stroke="#111" stroke-width="0.9"/>
<rect x="450.32" y="140.1" width="3.2" height="3.2" fill="#fff" stroke="#111" stroke-width="0.9"/>
<rect x="458.13" y="135.6" width="3.2" height="3.2" fill="#fff" stroke="#111" stroke-width="0.9"/>
<rect x="465.94" y="136.4" width="3.2" height="3.2" fill="#fff" stroke="#111" stroke-width="0.9"/>
<rect x="473.74" y="135.8" width="3.2" height="3.2" fill="#fff" stroke="#111" stroke-width="0.9"/>
<rect x="481.55" y="136" width="3.2" height="3.2" fill="#fff" stroke="#111" stroke-width="0.9"/>
<rect x="489.36" y="135.2" width="3.2" height="3.2" fill="#fff" stroke="#111" stroke-width="0.9"/>
<rect x="497.16" y="134.1" width="3.2" height="3.2" fill="#fff" stroke="#111" stroke-width="0.9"/>
<rect x="504.97" y="139" width="3.2" height="3.2" fill="#fff" stroke="#111" stroke-width="0.9"/>
<rect x="512.78" y="133.5" width="3.2" height="3.2" fill="#fff" stroke="#111" stroke-width="0.9"/>
<rect x="520.58" y="133.3" width="3.2" height="3.2" fill="#fff" stroke="#111" stroke-width="0.9"/>
<rect x="528.39" y="134.7" width="3.2" height="3.2" fill="#fff" stroke="#111" stroke-width="0.9"/>
<rect x="536.2" y="136.4" width="3.2" height="3.2" fill="#fff" stroke="#111" stroke-width="0.9"/>
<polyline fill="none" stroke="#d24b4b" stroke-width="0.95" points="428.5,134.2 436.31,136.3 444.12,132.9 451.92,137.6 459.73,138.5 467.54,131.5 475.34,138.5 483.15,132 490.96,127.3 498.76,139.5 506.57,106.5 514.38,125.1 522.18,125.9 529.99,134.9 537.8,130.8"/>
<path d="M428.5,132L430.5,135.6L426.5,135.6Z" fill="#c00000"/>
<path d="M436.31,134.1L438.31,137.7L434.31,137.7Z" fill="#c00000"/>
<path d="M444.12,130.7L446.12,134.3L442.12,134.3Z" fill="#c00000"/>
<path d="M451.92,135.4L453.92,139L449.92,139Z" fill="#c00000"/>
<path d="M459.73,136.3L461.73,139.9L457.73,139.9Z" fill="#c00000"/>
<path d="M467.54,129.3L469.54,132.9L465.54,132.9Z" fill="#c00000"/>
<path d="M475.34,136.3L477.34,139.9L473.34,139.9Z" fill="#c00000"/>
<path d="M483.15,129.8L485.15,133.4L481.15,133.4Z" fill="#c00000"/>
<path d="M490.96,125.1L492.96,128.7L488.96,128.7Z" fill="#c00000"/>
<path d="M498.76,137.3L500.76,140.9L496.76,140.9Z" fill="#c00000"/>
<path d="M506.57,104.3L508.57,107.9L504.57,107.9Z" fill="#c00000"/>
<path d="M514.38,122.9L516.38,126.5L512.38,126.5Z" fill="#c00000"/>
<path d="M522.18,123.7L524.18,127.3L520.18,127.3Z" fill="#c00000"/>
<path d="M529.99,132.7L531.99,136.3L527.99,136.3Z" fill="#c00000"/>
<path d="M537.8,128.6L539.8,132.2L535.8,132.2Z" fill="#c00000"/>
<rect x="424.6" y="99.8" width="117.1" height="71.3" fill="none" stroke="#111" stroke-width="1.3"/>
<line x1="432.2" y1="152.5" x2="441.5" y2="152.5" stroke="#4563a3" stroke-width="0.9"/>
<circle cx="436.85" cy="152.5" r="1.75" fill="#172a6a"/>
<text transform="translate(442,154.9) scale(1.0,1.15)" font-size="5.6" font-weight="bold" fill="#1a1a1a" stroke="#1a1a1a" stroke-width="0.14">0.75V VDD</text>
<line x1="432.2" y1="159.3" x2="441.5" y2="159.3" stroke="#444" stroke-width="0.9"/>
<rect x="435.25" y="157.7" width="3.2" height="3.2" fill="#fff" stroke="#111" stroke-width="0.9"/>
<text transform="translate(442,161.7) scale(1.0,1.15)" font-size="5.6" font-weight="bold" fill="#1a1a1a" stroke="#1a1a1a" stroke-width="0.14">0.8V VDD</text>
<line x1="432.2" y1="166.1" x2="441.5" y2="166.1" stroke="#d24b4b" stroke-width="0.9"/>
<path d="M436.85,164.1L438.65,167.4L435.05,167.4Z" fill="#c00000"/>
<text transform="translate(442,168.5) scale(1.0,1.15)" font-size="5.6" font-weight="bold" fill="#1a1a1a" stroke="#1a1a1a" stroke-width="0.14">0.85V VDD</text>
<line x1="120.3" y1="252.08" x2="235.4" y2="252.08" stroke="#c8c8c8" stroke-width="0.9" stroke-dasharray="3.3 2.7" stroke-dashoffset="0.7"/>
<line x1="120.3" y1="240.17" x2="235.4" y2="240.17" stroke="#c8c8c8" stroke-width="0.9" stroke-dasharray="3.3 2.7" stroke-dashoffset="0.7"/>
<line x1="120.3" y1="228.25" x2="235.4" y2="228.25" stroke="#c8c8c8" stroke-width="0.9" stroke-dasharray="3.3 2.7" stroke-dashoffset="0.7"/>
<line x1="120.3" y1="216.33" x2="235.4" y2="216.33" stroke="#c8c8c8" stroke-width="0.9" stroke-dasharray="3.3 2.7" stroke-dashoffset="0.7"/>
<line x1="120.3" y1="204.42" x2="235.4" y2="204.42" stroke="#c8c8c8" stroke-width="0.9" stroke-dasharray="3.3 2.7" stroke-dashoffset="0.7"/>
<text transform="translate(112.9,194.8) scale(1.0,1.15)" text-anchor="end" font-size="5.6" font-weight="bold" fill="#1a1a1a" stroke="#1a1a1a" stroke-width="0.16">8.0</text>
<text transform="translate(112.9,206.72) scale(1.0,1.15)" text-anchor="end" font-size="5.6" font-weight="bold" fill="#1a1a1a" stroke="#1a1a1a" stroke-width="0.16">7.8</text>
<text transform="translate(112.9,218.63) scale(1.0,1.15)" text-anchor="end" font-size="5.6" font-weight="bold" fill="#1a1a1a" stroke="#1a1a1a" stroke-width="0.16">7.5</text>
<text transform="translate(112.9,230.55) scale(1.0,1.15)" text-anchor="end" font-size="5.6" font-weight="bold" fill="#1a1a1a" stroke="#1a1a1a" stroke-width="0.16">7.3</text>
<text transform="translate(112.9,242.47) scale(1.0,1.15)" text-anchor="end" font-size="5.6" font-weight="bold" fill="#1a1a1a" stroke="#1a1a1a" stroke-width="0.16">7.0</text>
<text transform="translate(112.9,254.38) scale(1.0,1.15)" text-anchor="end" font-size="5.6" font-weight="bold" fill="#1a1a1a" stroke="#1a1a1a" stroke-width="0.16">6.8</text>
<text transform="translate(112.9,266.3) scale(1.0,1.15)" text-anchor="end" font-size="5.6" font-weight="bold" fill="#1a1a1a" stroke="#1a1a1a" stroke-width="0.16">6.5</text>
<text transform="translate(100,229.75) rotate(-90) scale(1.0,1.15)" text-anchor="middle" font-size="6.4" font-weight="bold" fill="#111" stroke="#111" stroke-width="0.15">ENOB</text>
<text transform="translate(125.7,269.3) rotate(-90) scale(1.0,1.05)" text-anchor="end" font-size="5.8" font-weight="bold" fill="#1a1a1a" stroke="#1a1a1a" stroke-width="0.1">0.1</text>
<text transform="translate(133.51,269.3) rotate(-90) scale(1.0,1.05)" text-anchor="end" font-size="5.8" font-weight="bold" fill="#1a1a1a" stroke="#1a1a1a" stroke-width="0.1">0.2</text>
<text transform="translate(141.32,269.3) rotate(-90) scale(1.0,1.05)" text-anchor="end" font-size="5.8" font-weight="bold" fill="#1a1a1a" stroke="#1a1a1a" stroke-width="0.1">0.2</text>
<text transform="translate(149.12,269.3) rotate(-90) scale(1.0,1.05)" text-anchor="end" font-size="5.8" font-weight="bold" fill="#1a1a1a" stroke="#1a1a1a" stroke-width="0.1">0.3</text>
<text transform="translate(156.93,269.3) rotate(-90) scale(1.0,1.05)" text-anchor="end" font-size="5.8" font-weight="bold" fill="#1a1a1a" stroke="#1a1a1a" stroke-width="0.1">0.3</text>
<text transform="translate(164.74,269.3) rotate(-90) scale(1.0,1.05)" text-anchor="end" font-size="5.8" font-weight="bold" fill="#1a1a1a" stroke="#1a1a1a" stroke-width="0.1">0.4</text>
<text transform="translate(172.54,269.3) rotate(-90) scale(1.0,1.05)" text-anchor="end" font-size="5.8" font-weight="bold" fill="#1a1a1a" stroke="#1a1a1a" stroke-width="0.1">0.5</text>
<text transform="translate(180.35,269.3) rotate(-90) scale(1.0,1.05)" text-anchor="end" font-size="5.8" font-weight="bold" fill="#1a1a1a" stroke="#1a1a1a" stroke-width="0.1">0.5</text>
<text transform="translate(188.16,269.3) rotate(-90) scale(1.0,1.05)" text-anchor="end" font-size="5.8" font-weight="bold" fill="#1a1a1a" stroke="#1a1a1a" stroke-width="0.1">0.6</text>
<text transform="translate(195.96,269.3) rotate(-90) scale(1.0,1.05)" text-anchor="end" font-size="5.8" font-weight="bold" fill="#1a1a1a" stroke="#1a1a1a" stroke-width="0.1">0.7</text>
<text transform="translate(203.77,269.3) rotate(-90) scale(1.0,1.05)" text-anchor="end" font-size="5.8" font-weight="bold" fill="#1a1a1a" stroke="#1a1a1a" stroke-width="0.1">0.7</text>
<text transform="translate(211.58,269.3) rotate(-90) scale(1.0,1.05)" text-anchor="end" font-size="5.8" font-weight="bold" fill="#1a1a1a" stroke="#1a1a1a" stroke-width="0.1">0.8</text>
<text transform="translate(219.38,269.3) rotate(-90) scale(1.0,1.05)" text-anchor="end" font-size="5.8" font-weight="bold" fill="#1a1a1a" stroke="#1a1a1a" stroke-width="0.1">0.8</text>
<text transform="translate(227.19,269.3) rotate(-90) scale(1.0,1.05)" text-anchor="end" font-size="5.8" font-weight="bold" fill="#1a1a1a" stroke="#1a1a1a" stroke-width="0.1">0.9</text>
<text transform="translate(235,269.3) rotate(-90) scale(1.0,1.05)" text-anchor="end" font-size="5.8" font-weight="bold" fill="#1a1a1a" stroke="#1a1a1a" stroke-width="0.1">1.0</text>
<polyline fill="none" stroke="#4563a3" stroke-width="0.95" points="123.2,219.1 131.01,219.1 138.82,222.4 146.62,217.6 154.43,208.9 162.24,208.9 170.04,216.5 177.85,209.6 185.66,220.2 193.46,218 201.27,222 209.08,219.1 216.88,224.9 224.69,221.3 232.5,219.8"/>
<circle cx="123.2" cy="219.1" r="1.75" fill="#172a6a"/>
<circle cx="131.01" cy="219.1" r="1.75" fill="#172a6a"/>
<circle cx="138.82" cy="222.4" r="1.75" fill="#172a6a"/>
<circle cx="146.62" cy="217.6" r="1.75" fill="#172a6a"/>
<circle cx="154.43" cy="208.9" r="1.75" fill="#172a6a"/>
<circle cx="162.24" cy="208.9" r="1.75" fill="#172a6a"/>
<circle cx="170.04" cy="216.5" r="1.75" fill="#172a6a"/>
<circle cx="177.85" cy="209.6" r="1.75" fill="#172a6a"/>
<circle cx="185.66" cy="220.2" r="1.75" fill="#172a6a"/>
<circle cx="193.46" cy="218" r="1.75" fill="#172a6a"/>
<circle cx="201.27" cy="222" r="1.75" fill="#172a6a"/>
<circle cx="209.08" cy="219.1" r="1.75" fill="#172a6a"/>
<circle cx="216.88" cy="224.9" r="1.75" fill="#172a6a"/>
<circle cx="224.69" cy="221.3" r="1.75" fill="#172a6a"/>
<circle cx="232.5" cy="219.8" r="1.75" fill="#172a6a"/>
<polyline fill="none" stroke="#444" stroke-width="0.95" points="123.2,215.8 131.01,224.9 138.82,213.4 146.62,210.2 154.43,217.8 162.24,217.3 170.04,218.4 177.85,217.7 185.66,220.2 193.46,222.4 201.27,212.5 209.08,223.4 216.88,224.2 224.69,221.6 232.5,217.2"/>
<rect x="121.6" y="214.2" width="3.2" height="3.2" fill="#fff" stroke="#111" stroke-width="0.9"/>
<rect x="129.41" y="223.3" width="3.2" height="3.2" fill="#fff" stroke="#111" stroke-width="0.9"/>
<rect x="137.22" y="211.8" width="3.2" height="3.2" fill="#fff" stroke="#111" stroke-width="0.9"/>
<rect x="145.02" y="208.6" width="3.2" height="3.2" fill="#fff" stroke="#111" stroke-width="0.9"/>
<rect x="152.83" y="216.2" width="3.2" height="3.2" fill="#fff" stroke="#111" stroke-width="0.9"/>
<rect x="160.64" y="215.7" width="3.2" height="3.2" fill="#fff" stroke="#111" stroke-width="0.9"/>
<rect x="168.44" y="216.8" width="3.2" height="3.2" fill="#fff" stroke="#111" stroke-width="0.9"/>
<rect x="176.25" y="216.1" width="3.2" height="3.2" fill="#fff" stroke="#111" stroke-width="0.9"/>
<rect x="184.06" y="218.6" width="3.2" height="3.2" fill="#fff" stroke="#111" stroke-width="0.9"/>
<rect x="191.86" y="220.8" width="3.2" height="3.2" fill="#fff" stroke="#111" stroke-width="0.9"/>
<rect x="199.67" y="210.9" width="3.2" height="3.2" fill="#fff" stroke="#111" stroke-width="0.9"/>
<rect x="207.48" y="221.8" width="3.2" height="3.2" fill="#fff" stroke="#111" stroke-width="0.9"/>
<rect x="215.28" y="222.6" width="3.2" height="3.2" fill="#fff" stroke="#111" stroke-width="0.9"/>
<rect x="223.09" y="220" width="3.2" height="3.2" fill="#fff" stroke="#111" stroke-width="0.9"/>
<rect x="230.9" y="215.6" width="3.2" height="3.2" fill="#fff" stroke="#111" stroke-width="0.9"/>
<polyline fill="none" stroke="#d24b4b" stroke-width="0.95" points="123.2,222 131.01,234.1 138.82,206 146.62,231.6 154.43,231.3 162.24,230.5 170.04,228.4 177.85,233.4 185.66,228.3 193.46,230.2 201.27,226.6 209.08,237.3 216.88,237.8 224.69,225.1 232.5,232.7"/>
<path d="M123.2,219.8L125.2,223.4L121.2,223.4Z" fill="#c00000"/>
<path d="M131.01,231.9L133.01,235.5L129.01,235.5Z" fill="#c00000"/>
<path d="M138.82,203.8L140.82,207.4L136.82,207.4Z" fill="#c00000"/>
<path d="M146.62,229.4L148.62,233L144.62,233Z" fill="#c00000"/>
<path d="M154.43,229.1L156.43,232.7L152.43,232.7Z" fill="#c00000"/>
<path d="M162.24,228.3L164.24,231.9L160.24,231.9Z" fill="#c00000"/>
<path d="M170.04,226.2L172.04,229.8L168.04,229.8Z" fill="#c00000"/>
<path d="M177.85,231.2L179.85,234.8L175.85,234.8Z" fill="#c00000"/>
<path d="M185.66,226.1L187.66,229.7L183.66,229.7Z" fill="#c00000"/>
<path d="M193.46,228L195.46,231.6L191.46,231.6Z" fill="#c00000"/>
<path d="M201.27,224.4L203.27,228L199.27,228Z" fill="#c00000"/>
<path d="M209.08,235.1L211.08,238.7L207.08,238.7Z" fill="#c00000"/>
<path d="M216.88,235.6L218.88,239.2L214.88,239.2Z" fill="#c00000"/>
<path d="M224.69,222.9L226.69,226.5L222.69,226.5Z" fill="#c00000"/>
<path d="M232.5,230.5L234.5,234.1L230.5,234.1Z" fill="#c00000"/>
<rect x="119.3" y="192.5" width="117.1" height="71.5" fill="none" stroke="#111" stroke-width="1.3"/>
<line x1="164.9" y1="198.3" x2="174.1" y2="198.3" stroke="#4563a3" stroke-width="0.9"/>
<circle cx="169.5" cy="198.3" r="1.75" fill="#172a6a"/>
<text transform="translate(175.6,200.7) scale(1.0,1.15)" font-size="5.6" font-weight="bold" fill="#1a1a1a" stroke="#1a1a1a" stroke-width="0.14">-40</text>
<line x1="192.1" y1="198.3" x2="200.3" y2="198.3" stroke="#444" stroke-width="0.9"/>
<rect x="194.6" y="196.7" width="3.2" height="3.2" fill="#fff" stroke="#111" stroke-width="0.9"/>
<text transform="translate(201.8,200.7) scale(1.0,1.15)" font-size="5.6" font-weight="bold" fill="#1a1a1a" stroke="#1a1a1a" stroke-width="0.14">27</text>
<line x1="213.9" y1="198.3" x2="222.8" y2="198.3" stroke="#d24b4b" stroke-width="0.9"/>
<path d="M218.35,196.3L220.15,199.6L216.55,199.6Z" fill="#c00000"/>
<text transform="translate(224.3,200.7) scale(1.0,1.15)" font-size="5.6" font-weight="bold" fill="#1a1a1a" stroke="#1a1a1a" stroke-width="0.14">80</text>
<line x1="274.4" y1="246.12" x2="389.3" y2="246.12" stroke="#c8c8c8" stroke-width="0.9" stroke-dasharray="3.3 2.7" stroke-dashoffset="0.7"/>
<line x1="274.4" y1="228.25" x2="389.3" y2="228.25" stroke="#c8c8c8" stroke-width="0.9" stroke-dasharray="3.3 2.7" stroke-dashoffset="0.7"/>
<line x1="274.4" y1="210.38" x2="389.3" y2="210.38" stroke="#c8c8c8" stroke-width="0.9" stroke-dasharray="3.3 2.7" stroke-dashoffset="0.7"/>
<text transform="translate(267,194.8) scale(1.0,1.15)" text-anchor="end" font-size="5.6" font-weight="bold" fill="#1a1a1a" stroke="#1a1a1a" stroke-width="0.16">60</text>
<text transform="translate(267,212.68) scale(1.0,1.15)" text-anchor="end" font-size="5.6" font-weight="bold" fill="#1a1a1a" stroke="#1a1a1a" stroke-width="0.16">55</text>
<text transform="translate(267,230.55) scale(1.0,1.15)" text-anchor="end" font-size="5.6" font-weight="bold" fill="#1a1a1a" stroke="#1a1a1a" stroke-width="0.16">50</text>
<text transform="translate(267,248.43) scale(1.0,1.15)" text-anchor="end" font-size="5.6" font-weight="bold" fill="#1a1a1a" stroke="#1a1a1a" stroke-width="0.16">45</text>
<text transform="translate(267,266.3) scale(1.0,1.15)" text-anchor="end" font-size="5.6" font-weight="bold" fill="#1a1a1a" stroke="#1a1a1a" stroke-width="0.16">40</text>
<text transform="translate(254.1,229.75) rotate(-90) scale(1.0,1.15)" text-anchor="middle" font-size="6.4" font-weight="bold" fill="#111" stroke="#111" stroke-width="0.15">SFDR [dB]</text>
<text transform="translate(279.8,269.3) rotate(-90) scale(1.0,1.05)" text-anchor="end" font-size="5.8" font-weight="bold" fill="#1a1a1a" stroke="#1a1a1a" stroke-width="0.1">0.1</text>
<text transform="translate(287.59,269.3) rotate(-90) scale(1.0,1.05)" text-anchor="end" font-size="5.8" font-weight="bold" fill="#1a1a1a" stroke="#1a1a1a" stroke-width="0.1">0.2</text>
<text transform="translate(295.38,269.3) rotate(-90) scale(1.0,1.05)" text-anchor="end" font-size="5.8" font-weight="bold" fill="#1a1a1a" stroke="#1a1a1a" stroke-width="0.1">0.2</text>
<text transform="translate(303.18,269.3) rotate(-90) scale(1.0,1.05)" text-anchor="end" font-size="5.8" font-weight="bold" fill="#1a1a1a" stroke="#1a1a1a" stroke-width="0.1">0.3</text>
<text transform="translate(310.97,269.3) rotate(-90) scale(1.0,1.05)" text-anchor="end" font-size="5.8" font-weight="bold" fill="#1a1a1a" stroke="#1a1a1a" stroke-width="0.1">0.3</text>
<text transform="translate(318.76,269.3) rotate(-90) scale(1.0,1.05)" text-anchor="end" font-size="5.8" font-weight="bold" fill="#1a1a1a" stroke="#1a1a1a" stroke-width="0.1">0.4</text>
<text transform="translate(326.56,269.3) rotate(-90) scale(1.0,1.05)" text-anchor="end" font-size="5.8" font-weight="bold" fill="#1a1a1a" stroke="#1a1a1a" stroke-width="0.1">0.5</text>
<text transform="translate(334.35,269.3) rotate(-90) scale(1.0,1.05)" text-anchor="end" font-size="5.8" font-weight="bold" fill="#1a1a1a" stroke="#1a1a1a" stroke-width="0.1">0.5</text>
<text transform="translate(342.14,269.3) rotate(-90) scale(1.0,1.05)" text-anchor="end" font-size="5.8" font-weight="bold" fill="#1a1a1a" stroke="#1a1a1a" stroke-width="0.1">0.6</text>
<text transform="translate(349.94,269.3) rotate(-90) scale(1.0,1.05)" text-anchor="end" font-size="5.8" font-weight="bold" fill="#1a1a1a" stroke="#1a1a1a" stroke-width="0.1">0.7</text>
<text transform="translate(357.73,269.3) rotate(-90) scale(1.0,1.05)" text-anchor="end" font-size="5.8" font-weight="bold" fill="#1a1a1a" stroke="#1a1a1a" stroke-width="0.1">0.7</text>
<text transform="translate(365.52,269.3) rotate(-90) scale(1.0,1.05)" text-anchor="end" font-size="5.8" font-weight="bold" fill="#1a1a1a" stroke="#1a1a1a" stroke-width="0.1">0.8</text>
<text transform="translate(373.32,269.3) rotate(-90) scale(1.0,1.05)" text-anchor="end" font-size="5.8" font-weight="bold" fill="#1a1a1a" stroke="#1a1a1a" stroke-width="0.1">0.8</text>
<text transform="translate(381.11,269.3) rotate(-90) scale(1.0,1.05)" text-anchor="end" font-size="5.8" font-weight="bold" fill="#1a1a1a" stroke="#1a1a1a" stroke-width="0.1">0.9</text>
<text transform="translate(388.9,269.3) rotate(-90) scale(1.0,1.05)" text-anchor="end" font-size="5.8" font-weight="bold" fill="#1a1a1a" stroke="#1a1a1a" stroke-width="0.1">1.0</text>
<polyline fill="none" stroke="#4563a3" stroke-width="0.95" points="277.3,218 285.09,216.6 292.88,218.3 300.68,211.5 308.47,219.6 316.26,212.2 324.06,220.9 331.85,214 339.64,218 347.44,219.2 355.23,228.7 363.02,224.2 370.82,220.3 378.61,225 386.4,222.3"/>
<circle cx="277.3" cy="218" r="1.75" fill="#172a6a"/>
<circle cx="285.09" cy="216.6" r="1.75" fill="#172a6a"/>
<circle cx="292.88" cy="218.3" r="1.75" fill="#172a6a"/>
<circle cx="300.68" cy="211.5" r="1.75" fill="#172a6a"/>
<circle cx="308.47" cy="219.6" r="1.75" fill="#172a6a"/>
<circle cx="316.26" cy="212.2" r="1.75" fill="#172a6a"/>
<circle cx="324.06" cy="220.9" r="1.75" fill="#172a6a"/>
<circle cx="331.85" cy="214" r="1.75" fill="#172a6a"/>
<circle cx="339.64" cy="218" r="1.75" fill="#172a6a"/>
<circle cx="347.44" cy="219.2" r="1.75" fill="#172a6a"/>
<circle cx="355.23" cy="228.7" r="1.75" fill="#172a6a"/>
<circle cx="363.02" cy="224.2" r="1.75" fill="#172a6a"/>
<circle cx="370.82" cy="220.3" r="1.75" fill="#172a6a"/>
<circle cx="378.61" cy="225" r="1.75" fill="#172a6a"/>
<circle cx="386.4" cy="222.3" r="1.75" fill="#172a6a"/>
<polyline fill="none" stroke="#444" stroke-width="0.95" points="277.3,212 285.09,229.4 292.88,216.1 300.68,216.9 308.47,223.4 316.26,219.1 324.06,223.8 331.85,220.8 339.64,225 347.44,222.8 355.23,211 363.02,229.9 370.82,231 378.61,225 386.4,211.3"/>
<rect x="275.7" y="210.4" width="3.2" height="3.2" fill="#fff" stroke="#111" stroke-width="0.9"/>
<rect x="283.49" y="227.8" width="3.2" height="3.2" fill="#fff" stroke="#111" stroke-width="0.9"/>
<rect x="291.28" y="214.5" width="3.2" height="3.2" fill="#fff" stroke="#111" stroke-width="0.9"/>
<rect x="299.08" y="215.3" width="3.2" height="3.2" fill="#fff" stroke="#111" stroke-width="0.9"/>
<rect x="306.87" y="221.8" width="3.2" height="3.2" fill="#fff" stroke="#111" stroke-width="0.9"/>
<rect x="314.66" y="217.5" width="3.2" height="3.2" fill="#fff" stroke="#111" stroke-width="0.9"/>
<rect x="322.46" y="222.2" width="3.2" height="3.2" fill="#fff" stroke="#111" stroke-width="0.9"/>
<rect x="330.25" y="219.2" width="3.2" height="3.2" fill="#fff" stroke="#111" stroke-width="0.9"/>
<rect x="338.04" y="223.4" width="3.2" height="3.2" fill="#fff" stroke="#111" stroke-width="0.9"/>
<rect x="345.84" y="221.2" width="3.2" height="3.2" fill="#fff" stroke="#111" stroke-width="0.9"/>
<rect x="353.63" y="209.4" width="3.2" height="3.2" fill="#fff" stroke="#111" stroke-width="0.9"/>
<rect x="361.42" y="228.3" width="3.2" height="3.2" fill="#fff" stroke="#111" stroke-width="0.9"/>
<rect x="369.22" y="229.4" width="3.2" height="3.2" fill="#fff" stroke="#111" stroke-width="0.9"/>
<rect x="377.01" y="223.4" width="3.2" height="3.2" fill="#fff" stroke="#111" stroke-width="0.9"/>
<rect x="384.8" y="209.7" width="3.2" height="3.2" fill="#fff" stroke="#111" stroke-width="0.9"/>
<polyline fill="none" stroke="#d24b4b" stroke-width="0.95" points="277.3,226.2 285.09,228.9 292.88,216.6 300.68,225.3 308.47,224.9 316.26,228.6 324.06,226 331.85,228.4 339.64,231.3 347.44,231.5 355.23,226.1 363.02,235.1 370.82,233.8 378.61,229.5 386.4,232.7"/>
<path d="M277.3,224L279.3,227.6L275.3,227.6Z" fill="#c00000"/>
<path d="M285.09,226.7L287.09,230.3L283.09,230.3Z" fill="#c00000"/>
<path d="M292.88,214.4L294.88,218L290.88,218Z" fill="#c00000"/>
<path d="M300.68,223.1L302.68,226.7L298.68,226.7Z" fill="#c00000"/>
<path d="M308.47,222.7L310.47,226.3L306.47,226.3Z" fill="#c00000"/>
<path d="M316.26,226.4L318.26,230L314.26,230Z" fill="#c00000"/>
<path d="M324.06,223.8L326.06,227.4L322.06,227.4Z" fill="#c00000"/>
<path d="M331.85,226.2L333.85,229.8L329.85,229.8Z" fill="#c00000"/>
<path d="M339.64,229.1L341.64,232.7L337.64,232.7Z" fill="#c00000"/>
<path d="M347.44,229.3L349.44,232.9L345.44,232.9Z" fill="#c00000"/>
<path d="M355.23,223.9L357.23,227.5L353.23,227.5Z" fill="#c00000"/>
<path d="M363.02,232.9L365.02,236.5L361.02,236.5Z" fill="#c00000"/>
<path d="M370.82,231.6L372.82,235.2L368.82,235.2Z" fill="#c00000"/>
<path d="M378.61,227.3L380.61,230.9L376.61,230.9Z" fill="#c00000"/>
<path d="M386.4,230.5L388.4,234.1L384.4,234.1Z" fill="#c00000"/>
<rect x="273.4" y="192.5" width="116.9" height="71.5" fill="none" stroke="#111" stroke-width="1.3"/>
<line x1="319" y1="198.3" x2="328.2" y2="198.3" stroke="#4563a3" stroke-width="0.9"/>
<circle cx="323.6" cy="198.3" r="1.75" fill="#172a6a"/>
<text transform="translate(329.7,200.7) scale(1.0,1.15)" font-size="5.6" font-weight="bold" fill="#1a1a1a" stroke="#1a1a1a" stroke-width="0.14">-40</text>
<line x1="346.2" y1="198.3" x2="354.4" y2="198.3" stroke="#444" stroke-width="0.9"/>
<rect x="348.7" y="196.7" width="3.2" height="3.2" fill="#fff" stroke="#111" stroke-width="0.9"/>
<text transform="translate(355.9,200.7) scale(1.0,1.15)" font-size="5.6" font-weight="bold" fill="#1a1a1a" stroke="#1a1a1a" stroke-width="0.14">27</text>
<line x1="368" y1="198.3" x2="376.9" y2="198.3" stroke="#d24b4b" stroke-width="0.9"/>
<path d="M372.45,196.3L374.25,199.6L370.65,199.6Z" fill="#c00000"/>
<text transform="translate(378.4,200.7) scale(1.0,1.15)" font-size="5.6" font-weight="bold" fill="#1a1a1a" stroke="#1a1a1a" stroke-width="0.14">80</text>
<line x1="425.6" y1="246.12" x2="540.7" y2="246.12" stroke="#c8c8c8" stroke-width="0.9" stroke-dasharray="3.3 2.7" stroke-dashoffset="0.7"/>
<line x1="425.6" y1="228.25" x2="540.7" y2="228.25" stroke="#c8c8c8" stroke-width="0.9" stroke-dasharray="3.3 2.7" stroke-dashoffset="0.7"/>
<line x1="425.6" y1="210.38" x2="540.7" y2="210.38" stroke="#c8c8c8" stroke-width="0.9" stroke-dasharray="3.3 2.7" stroke-dashoffset="0.7"/>
<text transform="translate(418.2,194.8) scale(1.0,1.15)" text-anchor="end" font-size="5.6" font-weight="bold" fill="#1a1a1a" stroke="#1a1a1a" stroke-width="0.16">15</text>
<text transform="translate(418.2,212.68) scale(1.0,1.15)" text-anchor="end" font-size="5.6" font-weight="bold" fill="#1a1a1a" stroke="#1a1a1a" stroke-width="0.16">13</text>
<text transform="translate(418.2,230.55) scale(1.0,1.15)" text-anchor="end" font-size="5.6" font-weight="bold" fill="#1a1a1a" stroke="#1a1a1a" stroke-width="0.16">10</text>
<text transform="translate(418.2,248.43) scale(1.0,1.15)" text-anchor="end" font-size="5.6" font-weight="bold" fill="#1a1a1a" stroke="#1a1a1a" stroke-width="0.16">8</text>
<text transform="translate(418.2,266.3) scale(1.0,1.15)" text-anchor="end" font-size="5.6" font-weight="bold" fill="#1a1a1a" stroke="#1a1a1a" stroke-width="0.16">5</text>
<text transform="translate(405.3,229.75) rotate(-90) scale(1.0,1.15)" text-anchor="middle" font-size="6.4" font-weight="bold" fill="#111" stroke="#111" stroke-width="0.15">FOM [fJ/C]</text>
<text transform="translate(431,269.3) rotate(-90) scale(1.0,1.05)" text-anchor="end" font-size="5.8" font-weight="bold" fill="#1a1a1a" stroke="#1a1a1a" stroke-width="0.1">0.1</text>
<text transform="translate(438.81,269.3) rotate(-90) scale(1.0,1.05)" text-anchor="end" font-size="5.8" font-weight="bold" fill="#1a1a1a" stroke="#1a1a1a" stroke-width="0.1">0.2</text>
<text transform="translate(446.62,269.3) rotate(-90) scale(1.0,1.05)" text-anchor="end" font-size="5.8" font-weight="bold" fill="#1a1a1a" stroke="#1a1a1a" stroke-width="0.1">0.2</text>
<text transform="translate(454.42,269.3) rotate(-90) scale(1.0,1.05)" text-anchor="end" font-size="5.8" font-weight="bold" fill="#1a1a1a" stroke="#1a1a1a" stroke-width="0.1">0.3</text>
<text transform="translate(462.23,269.3) rotate(-90) scale(1.0,1.05)" text-anchor="end" font-size="5.8" font-weight="bold" fill="#1a1a1a" stroke="#1a1a1a" stroke-width="0.1">0.3</text>
<text transform="translate(470.04,269.3) rotate(-90) scale(1.0,1.05)" text-anchor="end" font-size="5.8" font-weight="bold" fill="#1a1a1a" stroke="#1a1a1a" stroke-width="0.1">0.4</text>
<text transform="translate(477.84,269.3) rotate(-90) scale(1.0,1.05)" text-anchor="end" font-size="5.8" font-weight="bold" fill="#1a1a1a" stroke="#1a1a1a" stroke-width="0.1">0.5</text>
<text transform="translate(485.65,269.3) rotate(-90) scale(1.0,1.05)" text-anchor="end" font-size="5.8" font-weight="bold" fill="#1a1a1a" stroke="#1a1a1a" stroke-width="0.1">0.5</text>
<text transform="translate(493.46,269.3) rotate(-90) scale(1.0,1.05)" text-anchor="end" font-size="5.8" font-weight="bold" fill="#1a1a1a" stroke="#1a1a1a" stroke-width="0.1">0.6</text>
<text transform="translate(501.26,269.3) rotate(-90) scale(1.0,1.05)" text-anchor="end" font-size="5.8" font-weight="bold" fill="#1a1a1a" stroke="#1a1a1a" stroke-width="0.1">0.7</text>
<text transform="translate(509.07,269.3) rotate(-90) scale(1.0,1.05)" text-anchor="end" font-size="5.8" font-weight="bold" fill="#1a1a1a" stroke="#1a1a1a" stroke-width="0.1">0.7</text>
<text transform="translate(516.88,269.3) rotate(-90) scale(1.0,1.05)" text-anchor="end" font-size="5.8" font-weight="bold" fill="#1a1a1a" stroke="#1a1a1a" stroke-width="0.1">0.8</text>
<text transform="translate(524.68,269.3) rotate(-90) scale(1.0,1.05)" text-anchor="end" font-size="5.8" font-weight="bold" fill="#1a1a1a" stroke="#1a1a1a" stroke-width="0.1">0.8</text>
<text transform="translate(532.49,269.3) rotate(-90) scale(1.0,1.05)" text-anchor="end" font-size="5.8" font-weight="bold" fill="#1a1a1a" stroke="#1a1a1a" stroke-width="0.1">0.9</text>
<text transform="translate(540.3,269.3) rotate(-90) scale(1.0,1.05)" text-anchor="end" font-size="5.8" font-weight="bold" fill="#1a1a1a" stroke="#1a1a1a" stroke-width="0.1">1.0</text>
<polyline fill="none" stroke="#4563a3" stroke-width="0.95" points="428.5,234.9 436.31,235.3 444.12,231.8 451.92,236.7 459.73,244.7 467.54,244.4 475.34,237.5 483.15,243.6 490.96,235.3 498.76,236.4 506.57,233 514.38,235.8 522.18,229.3 529.99,232.7 537.8,234.4"/>
<circle cx="428.5" cy="234.9" r="1.75" fill="#172a6a"/>
<circle cx="436.31" cy="235.3" r="1.75" fill="#172a6a"/>
<circle cx="444.12" cy="231.8" r="1.75" fill="#172a6a"/>
<circle cx="451.92" cy="236.7" r="1.75" fill="#172a6a"/>
<circle cx="459.73" cy="244.7" r="1.75" fill="#172a6a"/>
<circle cx="467.54" cy="244.4" r="1.75" fill="#172a6a"/>
<circle cx="475.34" cy="237.5" r="1.75" fill="#172a6a"/>
<circle cx="483.15" cy="243.6" r="1.75" fill="#172a6a"/>
<circle cx="490.96" cy="235.3" r="1.75" fill="#172a6a"/>
<circle cx="498.76" cy="236.4" r="1.75" fill="#172a6a"/>
<circle cx="506.57" cy="233" r="1.75" fill="#172a6a"/>
<circle cx="514.38" cy="235.8" r="1.75" fill="#172a6a"/>
<circle cx="522.18" cy="229.3" r="1.75" fill="#172a6a"/>
<circle cx="529.99" cy="232.7" r="1.75" fill="#172a6a"/>
<circle cx="537.8" cy="234.4" r="1.75" fill="#172a6a"/>
<polyline fill="none" stroke="#444" stroke-width="0.95" points="428.5,234.9 436.31,225.7 444.12,236.7 451.92,240 459.73,232.9 467.54,233.5 475.34,232.9 483.15,233 490.96,230.8 498.76,229 506.57,238.7 514.38,227.1 522.18,226.7 529.99,229.3 537.8,233.5"/>
<rect x="426.9" y="233.3" width="3.2" height="3.2" fill="#fff" stroke="#111" stroke-width="0.9"/>
<rect x="434.71" y="224.1" width="3.2" height="3.2" fill="#fff" stroke="#111" stroke-width="0.9"/>
<rect x="442.52" y="235.1" width="3.2" height="3.2" fill="#fff" stroke="#111" stroke-width="0.9"/>
<rect x="450.32" y="238.4" width="3.2" height="3.2" fill="#fff" stroke="#111" stroke-width="0.9"/>
<rect x="458.13" y="231.3" width="3.2" height="3.2" fill="#fff" stroke="#111" stroke-width="0.9"/>
<rect x="465.94" y="231.9" width="3.2" height="3.2" fill="#fff" stroke="#111" stroke-width="0.9"/>
<rect x="473.74" y="231.3" width="3.2" height="3.2" fill="#fff" stroke="#111" stroke-width="0.9"/>
<rect x="481.55" y="231.4" width="3.2" height="3.2" fill="#fff" stroke="#111" stroke-width="0.9"/>
<rect x="489.36" y="229.2" width="3.2" height="3.2" fill="#fff" stroke="#111" stroke-width="0.9"/>
<rect x="497.16" y="227.4" width="3.2" height="3.2" fill="#fff" stroke="#111" stroke-width="0.9"/>
<rect x="504.97" y="237.1" width="3.2" height="3.2" fill="#fff" stroke="#111" stroke-width="0.9"/>
<rect x="512.78" y="225.5" width="3.2" height="3.2" fill="#fff" stroke="#111" stroke-width="0.9"/>
<rect x="520.58" y="225.1" width="3.2" height="3.2" fill="#fff" stroke="#111" stroke-width="0.9"/>
<rect x="528.39" y="227.7" width="3.2" height="3.2" fill="#fff" stroke="#111" stroke-width="0.9"/>
<rect x="536.2" y="231.9" width="3.2" height="3.2" fill="#fff" stroke="#111" stroke-width="0.9"/>
<polyline fill="none" stroke="#d24b4b" stroke-width="0.95" points="428.5,226.4 436.31,212.5 444.12,242.2 451.92,215.8 459.73,216.4 467.54,217.2 475.34,220.2 483.15,213.4 490.96,219.7 498.76,216.9 506.57,221.4 514.38,208.8 522.18,207.7 529.99,223.1 537.8,214.4"/>
<path d="M428.5,224.2L430.5,227.8L426.5,227.8Z" fill="#c00000"/>
<path d="M436.31,210.3L438.31,213.9L434.31,213.9Z" fill="#c00000"/>
<path d="M444.12,240L446.12,243.6L442.12,243.6Z" fill="#c00000"/>
<path d="M451.92,213.6L453.92,217.2L449.92,217.2Z" fill="#c00000"/>
<path d="M459.73,214.2L461.73,217.8L457.73,217.8Z" fill="#c00000"/>
<path d="M467.54,215L469.54,218.6L465.54,218.6Z" fill="#c00000"/>
<path d="M475.34,218L477.34,221.6L473.34,221.6Z" fill="#c00000"/>
<path d="M483.15,211.2L485.15,214.8L481.15,214.8Z" fill="#c00000"/>
<path d="M490.96,217.5L492.96,221.1L488.96,221.1Z" fill="#c00000"/>
<path d="M498.76,214.7L500.76,218.3L496.76,218.3Z" fill="#c00000"/>
<path d="M506.57,219.2L508.57,222.8L504.57,222.8Z" fill="#c00000"/>
<path d="M514.38,206.6L516.38,210.2L512.38,210.2Z" fill="#c00000"/>
<path d="M522.18,205.5L524.18,209.1L520.18,209.1Z" fill="#c00000"/>
<path d="M529.99,220.9L531.99,224.5L527.99,224.5Z" fill="#c00000"/>
<path d="M537.8,212.2L539.8,215.8L535.8,215.8Z" fill="#c00000"/>
<rect x="424.6" y="192.5" width="117.1" height="71.5" fill="none" stroke="#111" stroke-width="1.3"/>
<line x1="470.2" y1="198.3" x2="479.4" y2="198.3" stroke="#4563a3" stroke-width="0.9"/>
<circle cx="474.8" cy="198.3" r="1.75" fill="#172a6a"/>
<text transform="translate(480.9,200.7) scale(1.0,1.15)" font-size="5.6" font-weight="bold" fill="#1a1a1a" stroke="#1a1a1a" stroke-width="0.14">-40</text>
<line x1="497.4" y1="198.3" x2="505.6" y2="198.3" stroke="#444" stroke-width="0.9"/>
<rect x="499.9" y="196.7" width="3.2" height="3.2" fill="#fff" stroke="#111" stroke-width="0.9"/>
<text transform="translate(507.1,200.7) scale(1.0,1.15)" font-size="5.6" font-weight="bold" fill="#1a1a1a" stroke="#1a1a1a" stroke-width="0.14">27</text>
<line x1="519.2" y1="198.3" x2="528.1" y2="198.3" stroke="#d24b4b" stroke-width="0.9"/>
<path d="M523.65,196.3L525.45,199.6L521.85,199.6Z" fill="#c00000"/>
<text transform="translate(529.6,200.7) scale(1.0,1.15)" font-size="5.6" font-weight="bold" fill="#1a1a1a" stroke="#1a1a1a" stroke-width="0.14">80</text>
<text transform="translate(170.85,287.6) scale(1.0,1.12)" text-anchor="middle" font-size="6.7" font-weight="bold" fill="#111" stroke="#111" stroke-width="0.15">Input Frquency [GHz]</text>
<text transform="translate(324.85,287.6) scale(1.0,1.12)" text-anchor="middle" font-size="6.7" font-weight="bold" fill="#111" stroke="#111" stroke-width="0.15">Input Frquency [GHz]</text>
<text transform="translate(476.15,287.6) scale(1.0,1.12)" text-anchor="middle" font-size="6.7" font-weight="bold" fill="#111" stroke="#111" stroke-width="0.15">Input Frquency [GHz]</text>
<text transform="translate(45.6,40.9) scale(1.0,1.04)" text-anchor="middle" font-size="9.45" font-weight="bold" fill="#111" stroke="#111" stroke-width="0.22">Process sweep</text>
<line x1="11.6" y1="42" x2="80.2" y2="42" stroke="#8c8c8c" stroke-width="1.3"/>
<text transform="translate(45.6,52.7) scale(1.0,1.04)" text-anchor="middle" font-size="9.45" font-weight="bold" fill="#111" stroke="#111" stroke-width="0.22">800mV VDD</text>
<text transform="translate(45.6,64.1) scale(1.0,1.04)" text-anchor="middle" font-size="9.45" font-weight="bold" fill="#111" stroke="#111" stroke-width="0.22">27<tspan font-size="5.5" dy="-3.2">°</tspan><tspan dy="3.2">C Temperature</tspan></text>
<text transform="translate(45.6,130.3) scale(1.0,1.04)" text-anchor="middle" font-size="9.45" font-weight="bold" fill="#111" stroke="#111" stroke-width="0.22">Voltage sweep</text>
<line x1="12.9" y1="131.4" x2="78.6" y2="131.4" stroke="#8c8c8c" stroke-width="1.3"/>
<text transform="translate(45.6,141.8) scale(1.0,1.04)" text-anchor="middle" font-size="9.45" font-weight="bold" fill="#111" stroke="#111" stroke-width="0.22">SS Corner</text>
<text transform="translate(45.6,153.6) scale(1.0,1.04)" text-anchor="middle" font-size="9.45" font-weight="bold" fill="#111" stroke="#111" stroke-width="0.22">27<tspan font-size="5.5" dy="-3.2">°</tspan><tspan dy="3.2">C Temperature</tspan></text>
<text transform="translate(45.6,222.2) scale(1.0,1.04)" text-anchor="middle" font-size="9.45" font-weight="bold" fill="#111" stroke="#111" stroke-width="0.22">Temp sweep</text>
<line x1="17.6" y1="223.3" x2="74.4" y2="223.3" stroke="#8c8c8c" stroke-width="1.3"/>
<text transform="translate(45.6,234) scale(1.0,1.04)" text-anchor="middle" font-size="9.45" font-weight="bold" fill="#111" stroke="#111" stroke-width="0.22">800mV VDD</text>
<text transform="translate(45.6,245.6) scale(1.0,1.04)" text-anchor="middle" font-size="9.45" font-weight="bold" fill="#111" stroke="#111" stroke-width="0.22">SS Corner</text>
</svg></body></html>
